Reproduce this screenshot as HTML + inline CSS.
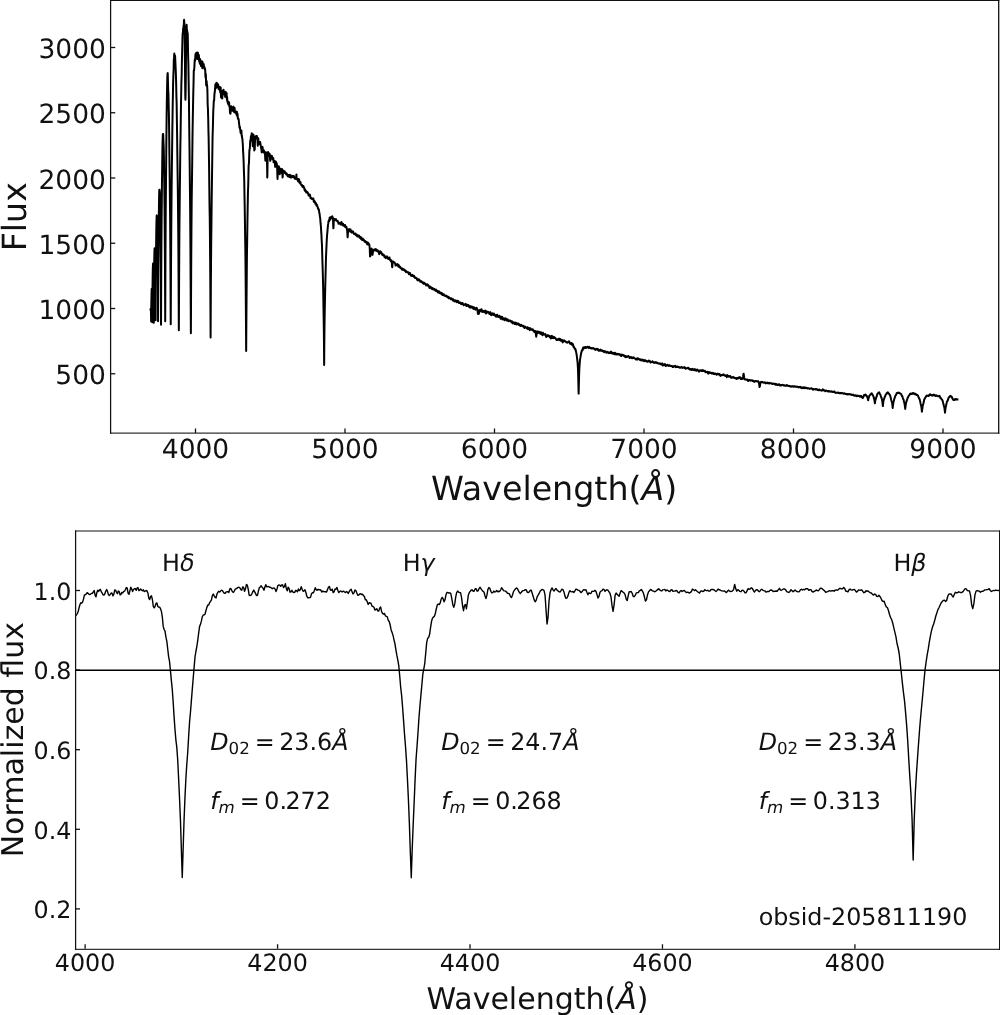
<!DOCTYPE html>
<html><head><meta charset="utf-8"><title>Spectrum</title>
<style>
html,body{margin:0;padding:0;background:#fff;}
svg{display:block;font-family:'DejaVu Sans','Liberation Sans',sans-serif;fill:#111;text-rendering:geometricPrecision;}
</style></head><body>
<svg width="1000" height="1015" viewBox="0 0 1000 1015">
<rect x="0" y="0" width="1000" height="1015" fill="#fff"/>
<polyline points="150.5,310.5 150.63,308.7 150.76,309.51 150.88,309.75 151.01,312.87 151.14,321.46 151.27,306.71 151.39,300.8 151.52,294.3 151.65,289.33 151.78,288.72 151.9,292.1 152.03,297.58 152.16,305.7 152.29,322.28 152.41,299.5 152.54,286.81 152.67,276.63 152.8,269.5 152.93,265.49 153.05,263.5 153.18,264.38 153.31,269.61 153.44,274.9 153.56,284.23 153.69,297.66 153.82,322.85 153.95,294.47 154.08,278.63 154.21,264.52 154.33,256.05 154.46,250.5 154.59,248.34 154.72,249.2 154.85,248.85 154.98,251.89 155.1,258.92 155.23,267.27 155.36,276.92 155.49,291.49 155.62,320.2 155.75,287.41 155.87,269.94 156,258.11 156.13,244.14 156.26,233.78 156.39,225.74 156.52,220.49 156.65,216.58 156.78,215.37 156.9,216.97 157.03,218.46 157.16,222.31 157.29,226.59 157.42,235.19 157.55,246.17 157.68,255.85 157.81,270.19 157.94,291.16 158.06,321.2 158.19,286.43 158.32,265.24 158.45,250.86 158.58,238.12 158.71,224.65 158.84,214.12 158.97,206.45 159.1,197.25 159.23,191.19 159.36,189.87 159.49,189.68 159.62,190.45 159.74,191.44 159.87,193.5 160,200.64 160.13,210.09 160.26,217.95 160.39,228.99 160.52,242.33 160.65,256.02 160.78,270.79 160.91,293.22 161.04,324.81 161.17,290.4 161.3,263.55 161.43,243.39 161.56,226.52 161.69,212.84 161.82,199.1 161.95,184.01 162.08,174.41 162.21,164.45 162.34,155.18 162.47,146.17 162.6,141.18 162.73,136.98 162.86,134.55 162.99,134.01 163.12,133.88 163.25,135.32 163.38,139.48 163.51,143.15 163.64,145.13 163.77,148.71 163.9,155.51 164.03,165.98 164.16,175.65 164.29,185.61 164.42,198.06 164.56,209.84 164.69,224.38 164.82,242.26 164.95,261.53 165.08,288.98 165.21,321.22 165.34,290.46 165.47,256.21 165.6,230.78 165.73,211.78 165.86,196.98 165.99,182.57 166.12,168.66 166.26,152.71 166.39,137.82 166.52,126.16 166.65,114.54 166.78,104.16 166.91,96.94 167.04,91.2 167.17,83.33 167.3,78.17 167.44,75.03 167.57,73.22 167.7,73.03 167.83,75.71 167.96,81.84 168.09,86.79 168.22,90.56 168.35,92.07 168.49,96.02 168.62,102.74 168.75,109.07 168.88,113.36 169.01,120.34 169.14,130.74 169.28,143.37 169.41,154.91 169.54,165.8 169.67,177.52 169.8,190.1 169.93,201.4 170.07,213.5 170.2,230 170.33,249.49 170.46,271.81 170.59,297.44 170.73,324.14 170.86,298.12 170.99,271.96 171.12,250.19 171.25,230.69 171.39,214.16 171.52,198.76 171.65,186.1 171.78,175.81 171.91,163.79 172.05,153.63 172.18,143.66 172.31,133.62 172.44,123 172.58,113.08 172.71,105.08 172.84,98.3 172.97,90.95 173.11,83.27 173.24,79.61 173.37,75.14 173.5,72.49 173.64,69.37 173.77,60.4 173.9,58.74 174.03,58.14 174.17,54.56 174.3,53.55 174.43,56.01 174.57,57.37 174.7,57.01 174.83,55.66 174.96,55.48 175.1,56.08 175.23,58.76 175.36,61.85 175.5,64.59 175.63,68.07 175.76,70.72 175.9,74.45 176.03,78.68 176.16,83.88 176.3,90.94 176.43,97.25 176.56,100.15 176.7,106.96 176.83,116.88 176.96,124.96 177.1,134.74 177.23,145.24 177.36,155.67 177.5,166.22 177.63,175.38 177.76,184.88 177.9,196 178.03,208.79 178.16,221.93 178.3,238.05 178.43,255.93 178.57,278.36 178.7,304.97 178.83,330.25 178.97,305.4 179.1,278.84 179.24,254.19 179.37,234.97 179.5,219.9 179.64,207.76 179.77,195.26 179.91,183.93 180.04,174.28 180.17,161.34 180.31,149.57 180.44,141.29 180.58,134.13 180.71,123.36 180.85,113.96 180.98,103.97 181.11,98.49 181.25,91.05 181.38,82.73 181.52,79.12 181.65,75.5 181.79,67.5 181.92,59.66 182.06,55.65 182.19,50.67 182.32,44.28 182.46,39.19 182.59,34.74 182.73,33 182.86,33.15 183,31.6 183.13,28.58 183.27,28.92 183.4,28.31 183.54,25.65 183.67,25.68 183.81,25.24 183.94,21.24 184.08,19.83 184.21,21.94 184.35,22.79 184.48,25.2 184.62,30.83 184.75,41.36 184.89,55.78 185.02,70.35 185.16,85.54 185.29,96.53 185.43,99.74 185.57,95.12 185.7,85.81 185.84,74.27 185.97,57.32 186.11,41.43 186.24,32.03 186.38,29.46 186.51,26.65 186.65,24.75 186.79,29.23 186.92,29.59 187.06,30.04 187.19,31.37 187.33,32.47 187.46,32.8 187.6,32.91 187.74,33.78 187.87,40.71 188.01,50.25 188.14,56.77 188.28,60.81 188.42,65.97 188.55,76.2 188.69,84.93 188.82,93.04 188.96,102.12 189.1,115.25 189.23,126.96 189.37,139.62 189.51,149.96 189.64,161.23 189.78,174.92 189.91,187.07 190.05,198.99 190.19,214.86 190.32,232.11 190.46,253.24 190.6,279.11 190.73,307.31 190.87,333.21 191.01,306.74 191.14,277.33 191.28,251.98 191.42,233.64 191.55,216.69 191.69,200.51 191.83,190.44 191.96,182.03 192.1,170.63 192.24,160.51 192.37,148.81 192.51,136.11 192.65,126.99 192.79,119.32 192.92,111.76 193.06,104.16 193.2,97.49 193.33,90.63 193.47,85.96 193.61,79.61 193.75,71.21 193.88,70.09 194.02,70.51 194.16,69.69 194.3,68.27 194.43,66.25 194.57,62.89 194.71,60.51 194.85,59.63 194.98,60.95 195.12,60.49 195.26,58.23 195.4,54.8 195.53,55 195.67,54.44 195.81,53.23 195.95,54.06 196.08,55.07 196.22,55.59 196.36,55.31 196.5,54.92 196.64,55.01 196.77,53.81 196.91,52.51 197.05,57.1 197.19,58.89 197.33,54.85 197.46,52.72 197.6,54.13 197.74,53.13 197.88,52.67 198.02,55.37 198.16,56.97 198.29,58.74 198.43,59.27 198.57,58.32 198.71,56.09 198.85,55 198.99,57.23 199.12,60.69 199.26,61.72 199.4,61.11 199.54,60.24 199.68,60.76 199.82,63.76 199.96,62.86 200.1,59.12 200.23,59.78 200.37,62.07 200.51,63.83 200.65,61.68 200.79,62.5 200.93,66.03 201.07,66.04 201.21,64.27 201.35,65.14 201.48,64.07 201.62,64.06 201.76,62.67 201.9,61.15 202.04,61.95 202.18,67.19 202.32,68.24 202.46,64.88 202.6,61.98 202.74,63.96 202.88,66.44 203.02,64.77 203.16,64.31 203.29,64.37 203.43,66.3 203.57,64.44 203.71,64.16 203.85,67.13 203.99,66.89 204.13,66.2 204.27,67.24 204.41,68.27 204.55,67.55 204.69,69.29 204.83,69.13 204.97,68.57 205.11,69.08 205.25,71.15 205.39,75.93 205.53,77.41 205.67,74.61 205.81,74.05 205.95,77.53 206.09,84.02 206.23,85.4 206.37,84.14 206.51,81.45 206.65,81.09 206.79,84.24 206.93,85.14 207.07,85.21 207.21,86.77 207.35,89.43 207.49,94.76 207.63,103.59 207.77,106.55 207.92,108.28 208.06,114 208.2,118.04 208.34,125.46 208.48,132.63 208.62,137.19 208.76,145.82 208.9,154.97 209.04,163.21 209.18,175.19 209.32,188.6 209.46,200.64 209.6,210.47 209.75,217.32 209.89,229.24 210.03,246.26 210.17,264.35 210.31,284.12 210.45,311.33 210.59,337.43 210.73,310.43 210.87,284.26 211.02,264.13 211.16,246.88 211.3,234.05 211.44,223.31 211.58,209.21 211.72,196.16 211.86,187.14 212.01,176.87 212.15,166.6 212.29,156.57 212.43,147.05 212.57,137.23 212.71,132.43 212.85,128.26 213,122.59 213.14,116.36 213.28,110.53 213.42,108.63 213.56,105.95 213.71,102.1 213.85,100.74 213.99,100.83 214.13,100.42 214.27,97.28 214.42,94.83 214.56,92.67 214.7,92.91 214.84,91.05 214.98,90.1 215.13,89.01 215.27,85.38 215.41,84.18 215.55,86.09 215.7,87.66 215.84,88.34 215.98,85.1 216.12,83.83 216.26,83.05 216.41,83.91 216.55,83.26 216.69,82.8 216.83,83.38 216.98,85.08 217.12,86.37 217.26,86.62 217.41,85.66 217.55,85.89 217.69,86.02 217.83,87.16 217.98,84.43 218.12,84.36 218.26,86.29 218.41,88.27 218.55,88.95 218.69,88.15 218.83,86.86 218.98,87.04 219.12,87.03 219.26,86.67 219.41,87.03 219.55,87.81 219.69,89.86 219.84,90.68 219.98,88.11 220.12,88.85 220.27,92.57 220.41,90.91 220.55,87.25 220.7,87.99 220.84,91.73 220.98,96.98 221.13,97.56 221.27,97.34 221.42,96.27 221.56,94.54 221.7,93.29 221.85,95 221.99,96.66 222.13,98.46 222.28,98.4 222.42,94.69 222.57,91.95 222.71,91.37 222.85,90.43 223,91.65 223.14,92.72 223.29,94.53 223.43,91.76 223.57,89.81 223.72,91.84 223.86,91.63 224.01,91.6 224.15,92.41 224.3,92.38 224.44,93.08 224.58,93.78 224.73,93.37 224.87,93.42 225.02,94.55 225.16,96.86 225.31,94.93 225.45,92.23 225.6,91.9 225.74,92.37 225.88,93.62 226.03,92.84 226.17,92.98 226.32,95.71 226.46,95.08 226.61,92.93 226.75,97.2 226.9,99.57 227.04,96.79 227.19,98.22 227.33,101.57 227.48,101.84 227.62,100.9 227.77,102.66 227.91,103.61 228.06,103.87 228.2,102.66 228.35,103.39 228.49,104.59 228.64,102.81 228.79,104.6 228.93,104.22 229.08,102.19 229.22,104.62 229.37,106.73 229.51,106.7 229.66,106.04 229.8,108.66 229.95,112.16 230.09,113.43 230.24,113.59 230.39,113.67 230.53,113.35 230.68,110.62 230.82,109.93 230.97,110.21 231.12,108.31 231.26,106.21 231.41,108.08 231.55,108.6 231.7,107.85 231.85,108.48 231.99,108.31 232.14,109.05 232.28,110.56 232.43,109.74 232.58,110.35 232.72,110.54 232.87,110.63 233.01,110.98 233.16,108.89 233.31,107.08 233.45,106.62 233.6,109.59 233.75,109.92 233.89,109.04 234.04,112.03 234.19,111.34 234.33,109.19 234.48,109.54 234.63,108.05 234.77,110.7 234.92,112.53 235.07,111.57 235.21,111.4 235.36,112.18 235.51,112.23 235.65,111.88 235.8,112.75 235.95,113.39 236.1,112.64 236.24,113.23 236.39,114.46 236.54,113.06 236.68,112.1 236.83,111.6 236.98,114.03 237.13,116.04 237.27,115.44 237.42,113.45 237.57,114.19 237.71,116.53 237.86,118.66 238.01,118.84 238.16,118.22 238.3,118.38 238.45,119.29 238.6,119.06 238.75,120.31 238.89,121.28 239.04,123.8 239.19,123.82 239.34,125.73 239.49,127.79 239.63,126.46 239.78,126.68 239.93,127.02 240.08,129.35 240.23,129.64 240.37,130.31 240.52,132.61 240.67,132.1 240.82,131.58 240.97,133.38 241.11,133.65 241.26,131.32 241.41,130.45 241.56,134.17 241.71,135.82 241.86,136.5 242,136.06 242.15,138.1 242.3,138.59 242.45,139.2 242.6,142.13 242.75,143.22 242.89,146.14 243.04,150.29 243.19,152.43 243.34,154.98 243.49,158.66 243.64,162.01 243.79,167.06 243.94,171.66 244.08,175.68 244.23,180.27 244.38,188.87 244.53,197.98 244.68,204.89 244.83,214.5 244.98,225.16 245.13,236.21 245.28,245.73 245.43,256.91 245.58,271.9 245.72,288.12 245.87,307.14 246.02,330.08 246.17,350.95 246.32,327.97 246.47,308.88 246.62,291.37 246.77,272.96 246.92,257.16 247.07,247.36 247.22,236.7 247.37,225.24 247.52,216.14 247.67,207.92 247.82,199.87 247.97,191.64 248.12,187.87 248.27,183.65 248.42,175.83 248.57,167.67 248.72,164.57 248.87,164.07 249.02,162.03 249.17,156.84 249.32,152.33 249.47,149.9 249.62,149.32 249.77,148.92 249.92,146.8 250.07,143.54 250.22,140.8 250.37,140.3 250.52,141 250.67,139.88 250.82,137.19 250.97,136.07 251.12,137.37 251.27,139.88 251.42,138.51 251.57,134.9 251.72,133.3 251.87,133.72 252.02,134.26 252.17,134.32 252.33,135.26 252.48,139.35 252.63,143.98 252.78,146.18 252.93,143.77 253.08,138.56 253.23,135.26 253.38,134.48 253.53,135.5 253.68,136.06 253.83,136.33 253.99,140.26 254.14,146.44 254.29,150.57 254.44,146.69 254.59,146.13 254.74,149.59 254.89,144.69 255.05,139.44 255.2,137.69 255.35,137.01 255.5,136.2 255.65,136.33 255.8,137.62 255.95,137.55 256.11,136.04 256.26,136.24 256.41,138.27 256.56,138.16 256.71,136.55 256.86,135.95 257.02,137.36 257.17,138.52 257.32,139.6 257.47,140.31 257.62,143.32 257.78,145.64 257.93,143.37 258.08,139.27 258.23,138.13 258.38,139.12 258.54,141.49 258.69,142.92 258.84,142.94 258.99,142.14 259.15,143.08 259.3,143.15 259.45,142.59 259.6,143.85 259.76,143.74 259.91,144.24 260.06,143.29 260.21,142.06 260.37,143.43 260.52,144.85 260.67,145.39 260.82,145.85 260.98,146.82 261.13,148.14 261.28,148.55 261.43,149.16 261.59,151.32 261.74,152.38 261.89,150.99 262.05,148.78 262.2,147.87 262.35,147.37 262.51,146.88 262.66,147.61 262.81,149.4 262.97,150.96 263.12,151.92 263.27,151.31 263.43,150.66 263.58,150.65 263.73,150.64 263.89,150.33 264.04,150.73 264.19,152.53 264.35,153.11 264.5,152.78 264.65,151.73 264.81,151.81 264.96,154.09 265.11,156.56 265.27,159.13 265.42,160.64 265.58,159.75 265.73,157.29 265.88,156.21 266.04,155.03 266.19,153.58 266.35,152.89 266.5,152.42 266.65,152.85 266.81,153.44 266.96,156.97 267.12,167.75 267.27,177.6 267.42,172.68 267.58,161.15 267.73,155.48 267.89,153.34 268.04,152.08 268.2,153.55 268.35,154.46 268.5,153.54 268.66,152.9 268.81,153.97 268.97,154.71 269.12,155.23 269.28,155.64 269.43,154.76 269.59,153.84 269.74,154.27 269.9,155.97 270.05,159.06 270.21,160.79 270.36,160.59 270.52,159.2 270.67,156.85 270.83,155.76 270.98,156.64 271.14,156.94 271.29,156.81 271.45,157.69 271.6,156.82 271.76,155.72 271.91,156.06 272.07,156.85 272.22,157.22 272.38,158.05 272.53,159.22 272.69,158.87 272.84,158.03 273,157.84 273.16,158.34 273.31,158.34 273.47,160.5 273.62,162.37 273.78,161.24 273.93,161.9 274.09,162.14 274.25,160.85 274.4,161.15 274.56,161.32 274.71,160.94 274.87,161.75 275.03,164.32 275.18,166.89 275.34,165.94 275.49,163.29 275.65,162.73 275.81,162.64 275.96,161.76 276.12,162.2 276.27,163.71 276.43,163.03 276.59,163 276.74,163.58 276.9,164.85 277.06,166.13 277.21,169.07 277.37,175.11 277.53,179.02 277.68,174.82 277.84,168.43 278,167 278.15,168.01 278.31,168.92 278.47,169.75 278.62,167.82 278.78,166.24 278.94,167.01 279.09,167.74 279.25,168.55 279.41,169.96 279.56,173.04 279.72,174.18 279.88,171.09 280.04,168.5 280.19,168.68 280.35,168.74 280.51,170.22 280.66,172.47 280.82,172.69 280.98,171.84 281.14,170.55 281.29,170.46 281.45,170.58 281.61,169.58 281.77,169.43 281.92,169 282.08,170.25 282.24,171.73 282.4,174.48 282.56,177.5 282.71,176.79 282.87,173.71 283.03,171.73 283.19,171.12 283.34,170.4 283.5,171.03 283.66,171.7 283.82,171.99 283.98,172.56 284.13,172.46 284.29,172.01 284.45,171.59 284.61,171.22 284.77,172.05 284.93,172.69 285.08,173.05 285.24,172.46 285.4,172.47 285.56,172.45 285.72,173.61 285.88,173.07 286.03,173.49 286.19,174.2 286.35,174.46 286.51,173.58 286.67,173.51 286.83,174.65 286.99,174.65 287.14,174.73 287.3,174.44 287.46,174.7 287.62,175.88 287.78,176.31 287.94,175.3 288.1,174.84 288.26,175.59 288.42,175.28 288.58,175 288.73,175.85 288.89,176.53 289.05,176.46 289.21,176.63 289.37,177.13 289.53,176.75 289.69,176.32 289.85,174.67 290.01,175.17 290.17,175.8 290.33,175.31 290.49,176.07 290.65,176.72 290.81,177.22 290.97,177.71 291.13,176.45 291.29,176.34 291.45,176.86 291.61,176.76 291.77,175.75 291.93,176.21 292.09,176.55 292.25,176.31 292.41,176.89 292.57,176.9 292.73,176.11 292.89,175.92 293.05,176.08 293.21,176.34 293.37,177.02 293.53,177.57 293.69,176.89 293.85,176.08 294.01,176.64 294.17,176.8 294.33,177.41 294.49,177.52 294.65,177.77 294.81,177.71 294.97,178.33 295.13,178.97 295.29,178.18 295.45,177.52 295.61,178.23 295.77,178.62 295.93,178.63 296.1,178.39 296.26,177.52 296.42,174.4 296.58,177.18 296.74,178.99 296.9,178.15 297.06,178.69 297.22,179.52 297.38,179.85 297.54,179.18 297.71,179.2 297.87,179.99 298.03,181.22 298.19,181.44 298.35,180.23 298.51,179.07 298.67,179.83 298.84,179.75 299,179.2 299.16,179.78 299.32,181.37 299.48,182.64 299.64,181.99 299.8,181.53 299.97,182.03 300.13,183.08 300.29,183.58 300.45,182.72 300.61,182.43 300.78,183.25 300.94,183.78 301.1,184.18 301.26,185.16 301.42,185.24 301.59,185.25 301.75,185.61 301.91,185.01 302.07,185.02 302.23,185.52 302.4,186.52 302.56,186.49 302.72,186.78 302.88,186.85 303.05,187.25 303.21,186.53 303.37,185.94 303.53,187.33 303.7,187.63 303.86,187.43 304.02,187.31 304.18,187.63 304.35,188.45 304.51,189.81 304.67,190.29 304.84,190.8 305,190.48 305.16,189.59 305.32,190.41 305.49,191.35 305.65,191.02 305.81,190.71 305.98,191.62 306.14,192.12 306.3,192.59 306.47,192.6 306.63,191.78 306.79,191.57 306.96,192.23 307.12,192.09 307.28,192.61 307.45,192.1 307.61,192.3 307.77,192.55 307.94,193.71 308.1,193.48 308.26,193.68 308.43,195.02 308.59,195.56 308.76,195.38 308.92,195.27 309.08,194.89 309.25,195.52 309.41,195.78 309.57,195.34 309.74,194.59 309.9,194.87 310.07,195.57 310.23,196.27 310.39,197.03 310.56,198.15 310.72,198.05 310.89,198.1 311.05,197.86 311.22,198.01 311.38,198.37 311.54,198.28 311.71,198.56 311.87,199.06 312.04,198.57 312.2,198.66 312.37,199.09 312.53,198.88 312.7,198.46 312.86,198.57 313.03,199.04 313.19,199.22 313.36,198.58 313.52,199.48 313.69,201.36 313.85,201.49 314.02,202.09 314.18,201.08 314.35,200.76 314.51,201.48 314.68,201.83 314.84,201.72 315.01,201.8 315.17,202.65 315.34,203.76 315.5,203.51 315.67,202.82 315.83,203.21 316,203.45 316.16,203.41 316.33,204.49 316.49,205.52 316.66,205.43 316.83,204.71 316.99,205.25 317.16,205.23 317.32,206 317.49,206.72 317.65,207.02 317.82,207.92 317.99,208.55 318.15,208.12 318.32,208.51 318.48,209.81 318.65,210.09 318.82,209.41 318.98,210.32 319.15,211.46 319.31,213.05 319.48,213.68 319.65,213.72 319.81,215.81 319.98,217.27 320.15,217.77 320.31,219.61 320.48,222.09 320.65,223.98 320.81,225.36 320.98,227.52 321.14,230.37 321.31,233.12 321.48,235.79 321.64,239.75 321.81,242.31 321.98,245.73 322.15,251.56 322.31,257.15 322.48,263.25 322.65,268.61 322.81,273.59 322.98,280.61 323.15,288.14 323.31,297.24 323.48,308.21 323.65,318.35 323.82,327.83 323.98,341.93 324.15,365.03 324.32,341.87 324.49,326.93 324.65,316.4 324.82,307.56 324.99,298.99 325.16,290.8 325.32,283.62 325.49,277.18 325.66,270.92 325.83,264.01 325.99,257.69 326.16,253.34 326.33,249.34 326.5,246.16 326.66,242.19 326.83,238.95 327,236.1 327.17,234.04 327.34,232.57 327.5,230.61 327.67,228.31 327.84,226.59 328.01,224.83 328.18,223.88 328.35,222.59 328.51,221.42 328.68,220.8 328.85,220.32 329.02,220.35 329.19,221.19 329.36,220.78 329.52,218.53 329.69,217.44 329.86,217.43 330.03,217.62 330.2,218.66 330.37,219.56 330.54,218.33 330.71,217.17 330.87,217.6 331.04,217.68 331.21,217.31 331.38,217.67 331.55,217.94 331.72,218.06 331.89,217.73 332.06,217.02 332.23,216.32 332.4,216.59 332.56,217.68 332.73,217.9 332.9,218.06 333.07,220.81 333.24,226.07 333.41,228.31 333.58,225.65 333.75,220.92 333.92,218.96 334.09,218.78 334.26,219.04 334.43,219.38 334.6,220.03 334.77,219.69 334.94,219.77 335.11,219.6 335.28,219.23 335.45,219.34 335.62,219.35 335.79,219.43 335.96,219.05 336.13,220.15 336.3,220.82 336.47,220.7 336.64,220.53 336.81,220.76 336.98,220.56 337.15,220.87 337.32,221.08 337.49,221.11 337.66,220.85 337.83,221.96 338,222.23 338.17,221.85 338.34,222.92 338.51,223.67 338.68,223.18 338.85,222.69 339.02,222.81 339.2,222.96 339.37,223.59 339.54,223.44 339.71,223.42 339.88,223.65 340.05,223.63 340.22,223.32 340.39,223.71 340.56,224.57 340.73,223.49 340.91,223.55 341.08,223.7 341.25,223.01 341.42,221.97 341.59,222.32 341.76,223.69 341.93,223.73 342.1,224 342.28,224.63 342.45,225.19 342.62,225.03 342.79,224.59 342.96,224.2 343.13,223.87 343.31,225.11 343.48,225.43 343.65,225.15 343.82,224.85 343.99,225.18 344.16,225.6 344.34,226.14 344.51,226.04 344.68,226.11 344.85,225.6 345.02,225 345.2,225.76 345.37,226.92 345.54,227.22 345.71,226.95 345.89,226.64 346.06,226.86 346.23,227.34 346.4,226.88 346.58,227.4 346.75,228.48 346.92,229.26 347.09,229.9 347.27,231.86 347.44,234.85 347.61,237.37 347.78,235.6 347.96,232.69 348.13,231.14 348.3,229.67 348.48,229.25 348.65,229.33 348.82,229.35 348.99,229.91 349.17,230.67 349.34,229.8 349.51,229.3 349.69,230.24 349.86,231.25 350.03,230.82 350.21,230.6 350.38,229.8 350.55,229.49 350.73,231.33 350.9,231.93 351.07,231.27 351.25,231.65 351.42,231 351.59,231.19 351.77,232.05 351.94,232.63 352.12,232.27 352.29,231.92 352.46,231.39 352.64,231.23 352.81,232 352.98,231.72 353.16,231.79 353.33,232.69 353.51,232.94 353.68,233 353.85,233.88 354.03,233.64 354.2,233.98 354.38,233.85 354.55,233.65 354.73,233.98 354.9,234.1 355.07,233.79 355.25,233.74 355.42,234.58 355.6,233.56 355.77,233.88 355.95,235.1 356.12,234.78 356.3,235.06 356.47,235.42 356.65,235 356.82,234.71 357,235.23 357.17,236.3 357.35,236.4 357.52,236.06 357.7,235.48 357.87,235.38 358.05,235.74 358.22,235.64 358.4,235.88 358.57,236.22 358.75,236.43 358.92,235.66 359.1,235.75 359.27,236.7 359.45,237.62 359.62,237.03 359.8,236.65 359.97,237.15 360.15,238.07 360.33,237.79 360.5,237.09 360.68,238.33 360.85,238.77 361.03,237.95 361.2,237.51 361.38,238.1 361.56,238.3 361.73,238.75 361.91,239.95 362.08,239.97 362.26,239.73 362.44,239.79 362.61,239.97 362.79,239.42 362.97,238.62 363.14,238.97 363.32,239.14 363.49,239.7 363.67,240.06 363.85,240.07 364.02,239.99 364.2,240.67 364.38,241.26 364.55,241.67 364.73,241.21 364.91,241.37 365.08,241.01 365.26,240.96 365.44,241.37 365.61,241.85 365.79,242.35 365.97,242.51 366.14,242.35 366.32,241.92 366.5,242.07 366.68,242.34 366.85,242.04 367.03,242.71 367.21,244.45 367.38,243.86 367.56,242.59 367.74,242.79 367.92,243.35 368.09,243.1 368.27,242.93 368.45,243.43 368.63,244.44 368.8,244.55 368.98,244.14 369.16,244.27 369.34,244.98 369.51,246.2 369.69,247.31 369.87,251.63 370.05,256.38 370.23,256.51 370.4,253.4 370.58,251.8 370.76,253.22 370.94,253.47 371.12,252.31 371.29,250.49 371.47,248.88 371.65,248.52 371.83,250.2 372.01,252.09 372.19,253.28 372.36,254.89 372.54,254.84 372.72,253.44 372.9,252.19 373.08,251.56 373.26,251.71 373.44,250.59 373.61,249.69 373.79,249.7 373.97,249.88 374.15,249.92 374.33,249.47 374.51,250.04 374.69,250.3 374.87,250.26 375.04,249.59 375.22,249.4 375.4,249.84 375.58,250.06 375.76,249.47 375.94,249.06 376.12,250.64 376.3,250.47 376.48,249.79 376.66,250.03 376.84,250.43 377.02,250.56 377.2,251.01 377.38,251.38 377.56,251 377.74,250.21 377.91,250.46 378.09,251.23 378.27,251.36 378.45,251.25 378.63,251.45 378.81,252.3 378.99,252.92 379.17,254.12 379.35,253.84 379.53,253.19 379.71,253.04 379.89,252.22 380.07,251.46 380.25,251.26 380.43,252.17 380.61,253.04 380.8,252.99 380.98,252.25 381.16,252.06 381.34,252.83 381.52,253.31 381.7,253.27 381.88,253.48 382.06,254.08 382.24,254.66 382.42,254.97 382.6,254.92 382.78,254.29 382.96,254.26 383.14,254.68 383.32,255.61 383.51,255.46 383.69,255.18 383.87,255.28 384.05,255.5 384.23,255.29 384.41,256.26 384.59,257.19 384.77,257.01 384.95,256.44 385.14,256.5 385.32,257.59 385.5,257.64 385.68,257.78 385.86,258.14 386.04,257.81 386.22,256.87 386.41,256.89 386.59,257.06 386.77,257.32 386.95,257.04 387.13,256.37 387.32,256.74 387.5,257.26 387.68,258.06 387.86,258.66 388.04,258.52 388.23,258.38 388.41,258.58 388.59,258.62 388.77,259.09 388.95,258.24 389.14,258.2 389.32,257.63 389.5,257.44 389.68,258 389.87,258.97 390.05,259.5 390.23,260.11 390.41,260 390.6,260.38 390.78,261.24 390.96,260.82 391.14,260.16 391.33,260.67 391.51,260.46 391.69,261.1 391.87,263.2 392.06,266.35 392.24,267.32 392.42,265.06 392.61,262.04 392.79,261.72 392.97,261.94 393.16,261.65 393.34,261.9 393.52,262.17 393.71,261.88 393.89,262.03 394.07,262.08 394.26,262.12 394.44,262.73 394.62,262.71 394.81,263.11 394.99,263.11 395.17,263.35 395.36,264.29 395.54,265.52 395.73,264.81 395.91,264.52 396.09,264.33 396.28,264.22 396.46,264.44 396.64,265.23 396.83,264.86 397.01,264.54 397.2,265.06 397.38,264.68 397.57,264.15 397.75,264.67 397.93,265.12 398.12,265.87 398.3,266.55 398.49,266.29 398.67,265.39 398.86,265.17 399.04,266.55 399.23,267.06 399.41,267.04 399.59,267.31 399.78,266.95 399.96,266.67 400.15,266.95 400.33,267.67 400.52,268.11 400.7,267.55 400.89,267.77 401.07,267.92 401.26,268.28 401.44,268.66 401.63,268.74 401.81,269.03 402,269.63 402.18,269.49 402.37,268.69 402.55,268.44 402.74,269.07 402.93,269.66 403.11,269.36 403.3,269.06 403.48,269.38 403.67,269.27 403.85,269.73 404.04,270.12 404.23,270.36 404.41,269.88 404.6,269.67 404.78,270.33 404.97,270.63 405.15,270.94 405.34,270.71 405.53,270.51 405.71,270.65 405.9,271.54 406.08,272.22 406.27,271.78 406.46,271.8 406.64,271.98 406.83,271.68 407.02,271.94 407.2,272.05 407.39,272.08 407.58,272 407.76,272.2 407.95,272.7 408.14,272.51 408.32,272.22 408.51,272.32 408.7,273 408.88,274.17 409.07,274.1 409.26,273.79 409.44,273.94 409.63,274.11 409.82,273.55 410,272.96 410.19,273.95 410.38,274.35 410.57,274.4 410.75,275.32 410.94,275.62 411.13,275.55 411.31,275.34 411.5,275.6 411.69,275.79 411.88,275.96 412.06,275.34 412.25,274.91 412.44,275.59 412.63,276.09 412.82,276.11 413,276.01 413.19,275.55 413.38,275.64 413.57,276.56 413.75,276.23 413.94,275.59 414.13,276.35 414.32,277.15 414.51,276.86 414.69,277.45 414.88,277.86 415.07,277.94 415.26,278.06 415.45,277.79 415.64,277.6 415.82,277.58 416.01,277.78 416.2,277.97 416.39,278 416.58,277.98 416.77,278.54 416.96,279.48 417.14,279.81 417.33,279.6 417.52,279.34 417.71,279.64 417.9,280.42 418.09,279.87 418.28,279.29 418.47,279.33 418.66,279.9 418.84,280.1 419.03,279.76 419.22,279.5 419.41,279.76 419.6,280.23 419.79,280.35 419.98,280.57 420.17,281.27 420.36,281.84 420.55,281.73 420.74,281.13 420.93,281.18 421.12,281.72 421.31,281.27 421.5,281.39 421.69,281.89 421.88,282.2 422.07,282.32 422.26,282.35 422.45,282.09 422.64,282.86 422.83,282.96 423.02,282.97 423.21,282.99 423.4,283.81 423.59,283.84 423.78,283.34 423.97,282.64 424.16,282.7 424.35,283.21 424.54,283.64 424.73,283.37 424.92,283.84 425.11,283.86 425.3,283.85 425.49,284.27 425.68,284.55 425.87,284.92 426.06,285.44 426.25,284.72 426.44,284.9 426.64,284.89 426.83,284.22 427.02,284.48 427.21,284.68 427.4,284.61 427.59,284.88 427.78,285.42 427.97,284.77 428.16,285.42 428.36,286.33 428.55,285.94 428.74,285.63 428.93,286.34 429.12,286.64 429.31,287.27 429.5,288 429.7,287.71 429.89,287.58 430.08,287.32 430.27,286.78 430.46,286.93 430.65,286.83 430.85,287.1 431.04,287.83 431.23,288.19 431.42,288.1 431.61,287.87 431.81,288.76 432,288.95 432.19,288.43 432.38,288.24 432.58,288.03 432.77,288.75 432.96,288.91 433.15,289.05 433.34,289.48 433.54,289.3 433.73,289.18 433.92,289.41 434.11,289.33 434.31,288.84 434.5,289.51 434.69,290.02 434.89,289.76 435.08,289.77 435.27,290.55 435.46,290.72 435.66,290.2 435.85,290.06 436.04,289.59 436.24,289.73 436.43,290.7 436.62,291.13 436.82,291.06 437.01,290.92 437.2,290.85 437.4,291.06 437.59,291.09 437.78,291.62 437.98,292.58 438.17,292.32 438.36,291.38 438.56,291.7 438.75,292.01 438.94,291.2 439.14,291.6 439.33,292.78 439.53,292.76 439.72,292.61 439.91,292.98 440.11,293.18 440.3,292.86 440.5,293.07 440.69,293 440.88,292.61 441.08,293.3 441.27,293.95 441.47,293.71 441.66,293.24 441.86,293.1 442.05,293.81 442.24,294.82 442.44,294.98 442.63,294.83 442.83,294.71 443.02,294.51 443.22,294.67 443.41,294.18 443.61,294.12 443.8,294.93 444,295.49 444.19,294.98 444.39,294.98 444.58,295.44 444.78,295.71 444.97,295.86 445.17,296.05 445.36,295.92 445.56,295.68 445.75,295.83 445.95,295.77 446.14,296.19 446.34,295.73 446.53,295.79 446.73,296.32 446.93,296.91 447.12,297.03 447.32,296.53 447.51,296.95 447.71,297.39 447.9,297.29 448.1,297.54 448.3,297.25 448.49,296.91 448.69,297.05 448.88,298.23 449.08,297.89 449.28,297.79 449.47,297.81 449.67,297.82 449.86,297.96 450.06,298.11 450.26,298.26 450.45,298.76 450.65,299.21 450.85,299.15 451.04,298.52 451.24,298.28 451.44,298.67 451.63,299 451.83,298.7 452.03,299.29 452.22,299.71 452.42,299.59 452.62,299.65 452.81,300.42 453.01,300.1 453.21,299.3 453.4,300 453.6,300.63 453.8,300.86 454,300.9 454.19,300.42 454.39,300.29 454.59,300.64 454.79,301.43 454.98,300.76 455.18,300.47 455.38,300.37 455.58,301.2 455.77,301.18 455.97,301.44 456.17,301.62 456.37,301.4 456.56,301.59 456.76,302.16 456.96,301.52 457.16,300.61 457.36,301.12 457.55,301.38 457.75,302.07 457.95,301.68 458.15,300.96 458.35,301.58 458.54,302.58 458.74,302.85 458.94,302.41 459.14,302.5 459.34,302.85 459.54,303.03 459.73,302.61 459.93,303.09 460.13,303.03 460.33,302.72 460.53,302.64 460.73,303.44 460.93,303.91 461.13,303.51 461.32,303.66 461.52,304.1 461.72,303.92 461.92,303.47 462.12,303.15 462.32,302.99 462.52,303.01 462.72,303.46 462.92,304.1 463.12,304.18 463.32,304.39 463.52,304.91 463.71,305.22 463.91,304.69 464.11,304.35 464.31,304.62 464.51,304.5 464.71,304.7 464.91,304.72 465.11,304.64 465.31,304.48 465.51,304.47 465.71,303.88 465.91,304.7 466.11,305.67 466.31,305.83 466.51,306.03 466.71,305.85 466.91,305.54 467.11,304.81 467.31,304.79 467.51,305.35 467.71,305.84 467.91,305.86 468.11,305.6 468.31,304.98 468.51,305.42 468.72,306.07 468.92,306.72 469.12,307.05 469.32,307.03 469.52,306.46 469.72,306.3 469.92,307.32 470.12,307.6 470.32,307.08 470.52,306.14 470.72,306.07 470.92,306.61 471.13,307.27 471.33,307.41 471.53,306.92 471.73,307.41 471.93,307.34 472.13,307.2 472.33,307.21 472.54,306.76 472.74,307.43 472.94,308.4 473.14,308.13 473.34,308.77 473.54,308.88 473.74,307.95 473.95,307.29 474.15,307.65 474.35,308.15 474.55,308.31 474.75,308.42 474.96,308.89 475.16,309.32 475.36,308.88 475.56,309.65 475.76,308.99 475.97,307.91 476.17,308.23 476.37,308.66 476.57,307.86 476.78,308.01 476.98,309.12 477.18,309.3 477.38,309.46 477.59,310.67 477.79,313.05 477.99,314.09 478.19,311.99 478.4,310.34 478.6,311.04 478.8,313.74 479.01,313.27 479.21,310.74 479.41,310.86 479.62,310.73 479.82,310.25 480.02,309.72 480.23,309.87 480.43,310.56 480.63,310.57 480.84,311.35 481.04,311.45 481.24,310.08 481.45,309.15 481.65,309.76 481.85,310.78 482.06,311.02 482.26,311.14 482.46,311.86 482.67,311.55 482.87,311.29 483.08,310.81 483.28,310.93 483.48,311.66 483.69,311.4 483.89,311.94 484.1,312.21 484.3,311.35 484.5,311.09 484.71,311.2 484.91,310.88 485.12,310.64 485.32,310.78 485.53,311.41 485.73,312.57 485.93,313.42 486.14,313.23 486.34,311.95 486.55,311.61 486.75,311.32 486.96,311.81 487.16,312.55 487.37,312.55 487.57,312.16 487.78,312.29 487.98,312.06 488.19,311.9 488.39,312.85 488.6,312.64 488.8,312.4 489.01,312.58 489.21,313.12 489.42,314.08 489.62,313.16 489.83,312.81 490.04,312.5 490.24,312.11 490.45,312.94 490.65,313.46 490.86,314.12 491.06,315.05 491.27,315.14 491.48,314.68 491.68,314.09 491.89,313.84 492.09,313.6 492.3,313.33 492.51,313.45 492.71,313.9 492.92,313.89 493.12,314.51 493.33,314.94 493.54,314.88 493.74,313.72 493.95,313.63 494.16,313.98 494.36,314.74 494.57,314.94 494.77,315.54 494.98,315.71 495.19,315.32 495.39,315.29 495.6,315.11 495.81,316.16 496.02,316.77 496.22,315.71 496.43,315.5 496.64,315.76 496.84,314.84 497.05,314.65 497.26,314.68 497.46,315.74 497.67,316.72 497.88,316.3 498.09,316.25 498.29,316.22 498.5,316.18 498.71,316.52 498.92,316.99 499.12,316.97 499.33,315.9 499.54,315.74 499.75,316.53 499.95,317 500.16,317.23 500.37,317.84 500.58,318.74 500.79,317.86 500.99,316.72 501.2,316.75 501.41,316.93 501.62,318.1 501.83,318.83 502.04,317.65 502.24,316.94 502.45,317.93 502.66,319.43 502.87,318.8 503.08,318.32 503.29,319.14 503.49,319.22 503.7,318.84 503.91,318.27 504.12,319.07 504.33,319.39 504.54,320.2 504.75,319.4 504.96,318.68 505.16,319.4 505.37,318.62 505.58,318.32 505.79,318.5 506,318.51 506.21,319.07 506.42,319.62 506.63,320.46 506.84,320.39 507.05,320.16 507.26,320.69 507.47,319.84 507.68,319.4 507.89,320.47 508.1,320.81 508.31,320.18 508.51,320.28 508.72,321.21 508.93,321.01 509.14,320.54 509.35,320.57 509.56,320.53 509.77,320.63 509.98,320.81 510.19,320.83 510.4,320.49 510.62,321.03 510.83,321.31 511.04,321.63 511.25,321.89 511.46,322.24 511.67,321.69 511.88,321.23 512.09,321.95 512.3,322.63 512.51,323.14 512.72,323.36 512.93,323.17 513.14,322.85 513.35,322.41 513.56,322.72 513.77,323.15 513.99,322.47 514.2,322.84 514.41,323.17 514.62,324.14 514.83,324.03 515.04,322.82 515.25,322.7 515.46,322.84 515.68,322.52 515.89,322.98 516.1,324.16 516.31,324.41 516.52,323.93 516.73,324.24 516.94,323.56 517.16,323.68 517.37,324.08 517.58,323.98 517.79,324.12 518,323.96 518.22,323.39 518.43,323.75 518.64,324.38 518.85,324.84 519.06,324.28 519.28,324.36 519.49,325.13 519.7,325.12 519.91,324.59 520.13,325.34 520.34,325.98 520.55,325.07 520.76,325.24 520.98,325.02 521.19,324.75 521.4,325.12 521.61,325.85 521.83,325.97 522.04,325.63 522.25,326.32 522.47,325.86 522.68,325.69 522.89,326.2 523.1,326.45 523.32,325.86 523.53,326.05 523.74,326.54 523.96,326.81 524.17,327.64 524.38,327.9 524.6,327.28 524.81,326.93 525.02,326.62 525.24,326.94 525.45,327.57 525.67,327.29 525.88,327.45 526.09,327.74 526.31,327.41 526.52,327.48 526.73,327.94 526.95,328.42 527.16,328 527.38,327.32 527.59,328.17 527.81,328.87 528.02,328.74 528.23,328.23 528.45,327.92 528.66,329.01 528.88,328.95 529.09,328.06 529.31,328.4 529.52,329.44 529.74,330.13 529.95,329.57 530.16,328.32 530.38,328.23 530.59,329.03 530.81,329.05 531.02,329.14 531.24,329.24 531.45,329.68 531.67,329.68 531.88,329.91 532.1,329.98 532.31,329.91 532.53,329.26 532.75,329.27 532.96,330.44 533.18,330.31 533.39,330.43 533.61,330.68 533.82,330.47 534.04,331.6 534.25,331.86 534.47,331.14 534.69,331.45 534.9,331.35 535.12,330.94 535.33,331.61 535.55,332.7 535.77,333.45 535.98,335.03 536.2,336.72 536.41,335.51 536.63,332.91 536.85,331.8 537.06,331.27 537.28,331.61 537.49,332.29 537.71,333.14 537.93,332.72 538.14,332.93 538.36,332.85 538.58,331.86 538.79,331.67 539.01,332.29 539.23,332.51 539.44,332.49 539.66,332.71 539.88,332.26 540.1,333.28 540.31,333.74 540.53,333.93 540.75,333.23 540.96,332.22 541.18,332.61 541.4,332.81 541.62,332.94 541.83,334.06 542.05,334.27 542.27,334.86 542.49,335.19 542.7,333.63 542.92,332.76 543.14,333.79 543.36,334.62 543.57,334.15 543.79,334.53 544.01,334.22 544.23,334.17 544.45,334.41 544.66,334.28 544.88,334.55 545.1,334.25 545.32,334.03 545.54,335.32 545.76,335.89 545.97,336.3 546.19,336.9 546.41,336.96 546.63,336.06 546.85,335.98 547.07,335.37 547.29,335.13 547.5,335.55 547.72,336.07 547.94,335.76 548.16,335.71 548.38,335.38 548.6,335.47 548.82,335.82 549.04,336.34 549.26,336.2 549.47,336.07 549.69,337.03 549.91,337.33 550.13,336.15 550.35,336.96 550.57,337.42 550.79,338.03 551.01,338.46 551.23,337.83 551.45,336.72 551.67,335.93 551.89,335.84 552.11,336.32 552.33,336.75 552.55,338.06 552.77,337.91 552.99,336.74 553.21,337.01 553.43,337.91 553.65,338.1 553.87,337.64 554.09,337.25 554.31,337.16 554.53,337.75 554.75,337.98 554.97,338.02 555.19,337.75 555.41,337.94 555.63,338.46 555.85,338.65 556.07,339.48 556.29,339.21 556.52,339.43 556.74,340.04 556.96,340.05 557.18,339.9 557.4,339.52 557.62,339.31 557.84,339.46 558.06,339.05 558.28,338.92 558.5,339.83 558.73,339.82 558.95,338.75 559.17,339.29 559.39,340.05 559.61,340.11 559.83,339.5 560.05,338.86 560.28,339.08 560.5,339.67 560.72,340.28 560.94,340.83 561.16,340.83 561.39,340.33 561.61,340.34 561.83,340.11 562.05,339.82 562.27,340.31 562.5,341.84 562.72,342.36 562.94,341.34 563.16,341.44 563.39,341.22 563.61,340.9 563.83,340.4 564.05,340.29 564.28,340.62 564.5,341.2 564.72,341.24 564.94,341.14 565.17,341.48 565.39,341.37 565.61,341.28 565.83,341.44 566.06,342.15 566.28,342.26 566.5,342 566.73,342.42 566.95,342.47 567.17,342.61 567.4,342.74 567.62,342.62 567.84,342.18 568.07,342.03 568.29,341.87 568.51,342.09 568.74,341.92 568.96,341.28 569.19,341.56 569.41,342.46 569.63,342.57 569.86,342.69 570.08,343.68 570.3,343.62 570.53,343.7 570.75,344.05 570.98,344.08 571.2,343.99 571.43,342.9 571.65,343.48 571.87,344.32 572.1,344.88 572.32,344.24 572.55,343.7 572.77,344.38 573,344.5 573.22,345.2 573.45,346.8 573.67,346.69 573.89,346.64 574.12,347.29 574.34,348.01 574.57,348.45 574.79,348.89 575.02,348.59 575.24,348.65 575.47,349.3 575.7,350.57 575.92,351.51 576.15,351.94 576.37,353.31 576.6,354.57 576.82,356.02 577.05,358.23 577.27,359.77 577.5,361.56 577.72,364.69 577.95,368.7 578.18,375.76 578.4,384.54 578.63,393.61 578.85,384.49 579.08,376.66 579.31,369.45 579.53,365.66 579.76,362.68 579.98,360.06 580.21,358.4 580.44,357.25 580.66,355.91 580.89,354.53 581.12,353.43 581.34,352.62 581.57,351.6 581.8,350.43 582.02,350.32 582.25,350.35 582.48,350.45 582.7,349.52 582.93,347.88 583.16,347.48 583.38,348.37 583.61,348.73 583.84,348.01 584.06,347.85 584.29,347.3 584.52,347.53 584.75,347.76 584.97,347.4 585.2,346.97 585.43,347.43 585.66,347.99 585.88,348.02 586.11,347.53 586.34,347.3 586.57,347.21 586.79,347.27 587.02,347.22 587.25,347.06 587.48,346.68 587.71,346.93 587.93,346.91 588.16,347.15 588.39,347.8 588.62,347.96 588.85,347.31 589.07,347.03 589.3,346.84 589.53,347.29 589.76,347.48 589.99,348.01 590.22,348.14 590.45,348.17 590.67,348.03 590.9,347.98 591.13,348.13 591.36,347.95 591.59,347.95 591.82,348.52 592.05,348.49 592.28,348.61 592.51,348.53 592.73,348.11 592.96,348.06 593.19,348.05 593.42,348.42 593.65,348.66 593.88,348.81 594.11,348.63 594.34,348.73 594.57,348.78 594.8,348.78 595.03,349.61 595.26,349.88 595.49,349.73 595.72,349.29 595.95,349.13 596.18,349.11 596.41,349.22 596.64,349.04 596.87,348.77 597.1,349.25 597.33,349.62 597.56,349.49 597.79,349.01 598.02,349.73 598.25,349.97 598.48,350.34 598.71,350.74 598.94,350.65 599.17,350.73 599.4,350.54 599.63,350.01 599.86,349.71 600.09,349.74 600.33,349.65 600.56,350.13 600.79,350.77 601.02,350.39 601.25,350.2 601.48,350.09 601.71,350.39 601.94,350.93 602.17,351.16 602.41,350.86 602.64,350.57 602.87,350.66 603.1,350.66 603.33,350.95 603.56,351.61 603.8,351.92 604.03,352.18 604.26,351.93 604.49,351.78 604.72,351.25 604.95,351.1 605.19,351.63 605.42,351.69 605.65,351.57 605.88,351.8 606.12,352 606.35,352.85 606.58,352.54 606.81,352.29 607.04,352.5 607.28,351.87 607.51,352.12 607.74,352.29 607.97,352.29 608.21,352.38 608.44,352.7 608.67,352.9 608.91,352.44 609.14,352.36 609.37,352.71 609.6,353.06 609.84,353.19 610.07,353.14 610.3,352.93 610.54,352.66 610.77,352.17 611,351.62 611.24,351.81 611.47,353.14 611.7,352.94 611.94,352.56 612.17,352.97 612.41,353.2 612.64,353.65 612.87,353.42 613.11,353.18 613.34,352.93 613.57,353.37 613.81,353.01 614.04,353.38 614.28,354.14 614.51,354.23 614.74,353.52 614.98,352.74 615.21,353.14 615.45,354.34 615.68,354.11 615.92,353.68 616.15,354.01 616.39,354.42 616.62,354.36 616.86,353.85 617.09,353.93 617.32,353.8 617.56,354.02 617.79,354.21 618.03,354.52 618.26,354.53 618.5,354.16 618.73,353.95 618.97,354.4 619.21,354.6 619.44,354.71 619.68,354.52 619.91,354.25 620.15,354.86 620.38,355.39 620.62,355.68 620.85,355.75 621.09,355.75 621.32,355.97 621.56,355.17 621.8,354.55 622.03,354.94 622.27,355.23 622.5,355.34 622.74,354.98 622.98,355.2 623.21,355.51 623.45,355.15 623.68,355.71 623.92,355.88 624.16,355.61 624.39,355.5 624.63,356.08 624.87,356.26 625.1,356.81 625.34,357.14 625.58,356.88 625.81,356.09 626.05,356.43 626.29,356.99 626.52,356.93 626.76,356.36 627,356.94 627.24,356.89 627.47,356.58 627.71,356.46 627.95,356.39 628.18,356.04 628.42,356.08 628.66,356.14 628.9,356.5 629.13,356.7 629.37,357.5 629.61,357.9 629.85,357.6 630.08,357.5 630.32,357.75 630.56,357.72 630.8,356.94 631.04,356.98 631.27,357.77 631.51,357.89 631.75,357.47 631.99,357.8 632.23,358.25 632.46,358.23 632.7,357.88 632.94,357.47 633.18,357.38 633.42,358.07 633.66,357.8 633.9,357.66 634.13,358.01 634.37,358.25 634.61,358.26 634.85,358.49 635.09,358.58 635.33,358.66 635.57,358.89 635.81,359.37 636.05,359.07 636.28,359.15 636.52,359.27 636.76,359.51 637,359.09 637.24,358.18 637.48,358.57 637.72,359.52 637.96,359.1 638.2,358.36 638.44,358.67 638.68,359.04 638.92,358.94 639.16,359.1 639.4,359.2 639.64,359.62 639.88,359.84 640.12,360.14 640.36,359.82 640.6,359.35 640.84,359.48 641.08,359.87 641.32,360.3 641.56,360.38 641.8,360.41 642.04,360.55 642.28,360.54 642.52,359.65 642.76,359.52 643,359.92 643.24,360.05 643.49,360.3 643.73,360.88 643.97,361.23 644.21,360.95 644.45,360.91 644.69,360.66 644.93,360.03 645.17,360.61 645.41,360.81 645.66,360.67 645.9,361.07 646.14,361.4 646.38,361.33 646.62,360.91 646.86,361.25 647.1,361.43 647.35,361.59 647.59,361.82 647.83,361.7 648.07,361.44 648.31,361.19 648.56,360.92 648.8,360.49 649.04,360.68 649.28,361.01 649.52,361.51 649.77,361.5 650.01,361.08 650.25,361.68 650.49,362.4 650.74,362.38 650.98,362.06 651.22,362.17 651.46,362.16 651.71,362.13 651.95,362.2 652.19,361.84 652.43,361.27 652.68,361.99 652.92,361.99 653.16,362.07 653.41,362.32 653.65,362.55 653.89,362.48 654.14,362.54 654.38,362.93 654.62,362.82 654.87,362.35 655.11,362 655.35,362.22 655.6,362.7 655.84,362.44 656.08,362.31 656.33,362.67 656.57,362.72 656.82,362.52 657.06,363.3 657.3,363.26 657.55,362.84 657.79,362.89 658.04,363.22 658.28,363.27 658.52,363.59 658.77,363.63 659.01,363.56 659.26,363.79 659.5,363.76 659.75,363.7 659.99,363.39 660.24,363.78 660.48,364.03 660.73,363.91 660.97,364.21 661.22,364.52 661.46,364.24 661.71,364.3 661.95,363.94 662.2,363.41 662.44,364.3 662.69,365.41 662.93,364.96 663.18,365.08 663.42,365.28 663.67,364.6 663.91,364.35 664.16,364.22 664.4,364.25 664.65,364.24 664.9,363.95 665.14,364.61 665.39,365.73 665.63,365.91 665.88,365.26 666.13,365.15 666.37,365.12 666.62,365.42 666.86,365.64 667.11,365.36 667.36,364.79 667.6,364.95 667.85,365.28 668.1,365.14 668.34,365.39 668.59,365.91 668.84,365.56 669.08,365.14 669.33,365.17 669.58,365.24 669.82,365.28 670.07,365.57 670.32,366.09 670.56,366.04 670.81,366.05 671.06,366.04 671.31,366.06 671.55,366.14 671.8,365.99 672.05,366.07 672.29,366.58 672.54,366.92 672.79,367.1 673.04,367.09 673.29,366.44 673.53,366.31 673.78,366.33 674.03,366.4 674.28,366.21 674.52,366.39 674.77,366.41 675.02,366 675.27,365.85 675.52,367.01 675.77,367.16 676.01,366.85 676.26,366.86 676.51,366.79 676.76,367.07 677.01,367 677.26,366.51 677.5,366.64 677.75,367.02 678,366.92 678.25,366.84 678.5,366.88 678.75,367.33 679,367.43 679.25,367.14 679.5,367.4 679.74,367.79 679.99,367.85 680.24,367.52 680.49,367.57 680.74,367.45 680.99,367.11 681.24,366.9 681.49,367.26 681.74,367.36 681.99,367.58 682.24,367.98 682.49,367.77 682.74,367.59 682.99,367.57 683.24,367.66 683.49,367.62 683.74,367.56 683.99,367.23 684.24,367.14 684.49,367.6 684.74,368.15 684.99,368.1 685.24,367.68 685.49,368.21 685.74,368.61 685.99,368.45 686.24,368.42 686.49,368.43 686.74,368.3 687,368.25 687.25,368.2 687.5,367.85 687.75,368.11 688,368.21 688.25,367.92 688.5,367.75 688.75,368.18 689,368.92 689.26,369.13 689.51,369.25 689.76,369.51 690.01,369.22 690.26,369.4 690.51,369.71 690.77,368.97 691.02,368.96 691.27,369.34 691.52,369.8 691.77,370.06 692.02,369.5 692.28,368.89 692.53,369.38 692.78,369.74 693.03,369.66 693.29,369.75 693.54,369.56 693.79,369.28 694.04,370.1 694.3,370.3 694.55,369.33 694.8,368.97 695.05,369.58 695.31,370.29 695.56,369.97 695.81,370.03 696.06,370.6 696.32,370.72 696.57,370.69 696.82,369.96 697.08,369.6 697.33,369.55 697.58,369.87 697.84,370.12 698.09,370.2 698.34,370.43 698.6,371.1 698.85,371.52 699.1,371.64 699.36,371.09 699.61,370.69 699.87,370.52 700.12,370.24 700.37,370.39 700.63,370.7 700.88,370.79 701.14,370.65 701.39,371.03 701.64,371.06 701.9,370.54 702.15,370.13 702.41,370.28 702.66,370.95 702.92,370.91 703.17,370.35 703.42,370.88 703.68,370.99 703.93,370.82 704.19,370.87 704.44,371.26 704.7,371.17 704.95,370.82 705.21,371.35 705.46,372.23 705.72,372.17 705.97,371.65 706.23,371.72 706.48,372.13 706.74,372.22 707,372.1 707.25,371.84 707.51,372.15 707.76,372.49 708.02,373.04 708.27,373.66 708.53,372.66 708.79,371.98 709.04,372.07 709.3,372.31 709.55,372.65 709.81,372.88 710.07,372.83 710.32,372.97 710.58,372.51 710.83,372.54 711.09,372.85 711.35,373.06 711.6,373.26 711.86,373.61 712.12,373.23 712.37,373.5 712.63,373.13 712.89,372.86 713.14,372.9 713.4,373.29 713.66,373.5 713.91,374.07 714.17,373.97 714.43,373.45 714.69,373.74 714.94,374.09 715.2,373.84 715.46,373.91 715.72,373.54 715.97,373.86 716.23,373.81 716.49,374.22 716.75,374.69 717,374.44 717.26,374.36 717.52,374.12 717.78,373.67 718.04,373.86 718.29,374.15 718.55,374.56 718.81,374.49 719.07,374.38 719.33,374.07 719.58,373.98 719.84,374.56 720.1,375.47 720.36,375.73 720.62,375.9 720.88,375.64 721.14,375.43 721.39,375.13 721.65,375.01 721.91,374.95 722.17,374.84 722.43,375.12 722.69,374.98 722.95,374.94 723.21,374.75 723.47,374.37 723.73,374.48 723.99,374.72 724.24,375.54 724.5,375.54 724.76,375.24 725.02,375.46 725.28,375.7 725.54,375.93 725.8,375.57 726.06,375.2 726.32,375.61 726.58,376.37 726.84,377.13 727.1,375.9 727.36,375.13 727.62,375.51 727.88,375.92 728.14,375.71 728.4,376.21 728.66,376.55 728.92,376.69 729.18,376.53 729.45,376.25 729.71,376.1 729.97,375.96 730.23,375.96 730.49,376.99 730.75,377.39 731.01,377.2 731.27,377.36 731.53,377.62 731.79,377.85 732.05,377.66 732.32,377.3 732.58,377.15 732.84,377.11 733.1,376.89 733.36,377.02 733.62,377.41 733.89,377.72 734.15,377.59 734.41,377.58 734.67,377.96 734.93,378.19 735.19,378.33 735.46,378.33 735.72,378.12 735.98,378.29 736.24,378.7 736.5,378.92 736.77,378.27 737.03,377.93 737.29,378.67 737.55,378.63 737.82,378.15 738.08,378.38 738.34,378.31 738.6,377.53 738.87,377.43 739.13,377.46 739.39,377.87 739.66,377.69 739.92,377.1 740.18,377.45 740.45,378.26 740.71,378.87 740.97,378.2 741.24,378.02 741.5,378.56 741.76,379.08 742.03,378.96 742.29,379.05 742.55,379.05 742.82,378.18 743.08,376.67 743.34,374.4 743.61,373.73 743.87,375.15 744.14,377.39 744.4,378.72 744.66,379.38 744.93,379.42 745.19,379.55 745.46,379.62 745.72,379.48 745.99,379.56 746.25,379.49 746.51,379.83 746.78,379.89 747.04,379.53 747.31,379.51 747.57,379.63 747.84,380.45 748.1,380.88 748.37,380.3 748.63,380.27 748.9,380.57 749.16,380.15 749.43,379.9 749.69,379.96 749.96,380.34 750.22,380.48 750.49,380.62 750.76,380.31 751.02,380.36 751.29,380.32 751.55,380.4 751.82,380.43 752.08,380.48 752.35,380.87 752.62,380.58 752.88,380.43 753.15,380.76 753.41,381.1 753.68,380.96 753.95,381.22 754.21,381.82 754.48,381.73 754.75,381.49 755.01,381.14 755.28,381.29 755.55,381.1 755.81,381.08 756.08,381.32 756.35,381.37 756.61,381.13 756.88,381.2 757.15,381.13 757.41,381.39 757.68,381.73 757.95,381.72 758.21,381.25 758.48,381.63 758.75,382.37 759.02,383.09 759.28,385.17 759.55,386.98 759.82,386.55 760.09,384.81 760.35,383.27 760.62,382.27 760.89,381.98 761.16,382.31 761.43,382.35 761.69,382.09 761.96,381.85 762.23,381.92 762.5,382 762.77,382.31 763.04,382.42 763.3,382.56 763.57,382.71 763.84,382.63 764.11,382.63 764.38,382.5 764.65,382.33 764.92,382.29 765.18,382.83 765.45,383.12 765.72,383.44 765.99,383.3 766.26,383.17 766.53,383.13 766.8,382.81 767.07,382.64 767.34,382.61 767.61,382.74 767.88,383.26 768.15,383.39 768.42,383.07 768.69,382.97 768.95,383.11 769.22,382.85 769.49,383.45 769.76,383.37 770.03,383.22 770.3,383.34 770.57,383.14 770.84,383.09 771.11,383.18 771.38,383.46 771.66,383.64 771.93,383.62 772.2,383.68 772.47,383.93 772.74,383.99 773.01,383.58 773.28,383.42 773.55,383.73 773.82,383.64 774.09,383.76 774.36,383.93 774.63,384.31 774.9,384.05 775.18,383.89 775.45,384.09 775.72,384.78 775.99,384.75 776.26,384.26 776.53,384.09 776.8,384.57 777.07,384.77 777.35,384.72 777.62,385.02 777.89,385.14 778.16,384.78 778.43,384.46 778.71,384.31 778.98,384.26 779.25,384.24 779.52,384.73 779.79,385.27 780.07,385.58 780.34,385.53 780.61,384.97 780.88,385.15 781.16,385.51 781.43,385.1 781.7,385 781.97,385.13 782.25,384.88 782.52,385.05 782.79,385.01 783.07,385.09 783.34,385.03 783.61,385.18 783.88,385.52 784.16,385.48 784.43,385.2 784.7,385.64 784.98,385.79 785.25,385.81 785.52,385.78 785.8,385.71 786.07,385.47 786.35,385.12 786.62,385.38 786.89,385.77 787.17,385.33 787.44,385.23 787.72,385.7 787.99,385.66 788.26,385.77 788.54,386.04 788.81,385.95 789.09,386.02 789.36,386 789.64,386.03 789.91,386.43 790.18,386.23 790.46,386.35 790.73,386.39 791.01,386.7 791.28,386.42 791.56,386.33 791.83,386.56 792.11,386.58 792.38,386.43 792.66,386.34 792.93,386.15 793.21,386.58 793.48,386.79 793.76,386.81 794.04,386.65 794.31,386.29 794.59,386.21 794.86,386.52 795.14,386.58 795.41,386.48 795.69,386.74 795.97,386.69 796.24,386.58 796.52,386.86 796.79,386.92 797.07,386.83 797.35,386.69 797.62,386.59 797.9,386.89 798.18,387.28 798.45,387.42 798.73,387.02 799,387 799.28,387.2 799.56,387.15 799.84,386.86 800.11,386.8 800.39,386.96 800.67,387.15 800.94,387.7 801.22,387.73 801.5,387.47 801.77,387.91 802.05,388.28 802.33,387.97 802.61,387.86 802.88,387.59 803.16,387.25 803.44,387.88 803.72,388.03 803.99,387.97 804.27,387.6 804.55,387.37 804.83,387.74 805.11,388.25 805.38,388.15 805.66,387.69 805.94,387.59 806.22,387.74 806.5,387.72 806.78,388.07 807.05,388.23 807.33,388.41 807.61,388.44 807.89,388.24 808.17,388.15 808.45,388.16 808.73,388.13 809.01,388.43 809.28,388.66 809.56,388.81 809.84,388.96 810.12,388.6 810.4,388.57 810.68,388.52 810.96,388.48 811.24,388.57 811.52,388.25 811.8,388.36 812.08,388.62 812.36,389 812.64,389.25 812.92,389.66 813.2,389.67 813.48,389.61 813.76,389.09 814.04,389.15 814.32,389.18 814.6,389.16 814.88,389.26 815.16,389.4 815.44,389.14 815.72,388.98 816,389.04 816.28,389.4 816.56,389.18 816.84,389.11 817.12,389.39 817.4,389.49 817.68,390.02 817.97,389.94 818.25,390.08 818.53,390.27 818.81,389.88 819.09,389.43 819.37,389.58 819.65,389.92 819.93,390.27 820.22,390.34 820.5,390.35 820.78,390.35 821.06,390.33 821.34,390.4 821.62,390.48 821.91,390.68 822.19,390.33 822.47,390 822.75,389.34 823.03,389.55 823.32,390.32 823.6,390.24 823.88,390.25 824.16,390.61 824.45,390.66 824.73,390.39 825.01,390.68 825.29,391.1 825.58,390.78 825.86,390.8 826.14,390.51 826.43,390.73 826.71,390.77 826.99,390.87 827.27,390.99 827.56,391.24 827.84,391.41 828.12,391.32 828.41,391.01 828.69,391.08 828.97,391.66 829.26,391.57 829.54,391.34 829.83,391.34 830.11,391.69 830.39,391.63 830.68,391.54 830.96,391.47 831.25,391.59 831.53,391.68 831.81,391.37 832.1,391.63 832.38,391.73 832.67,391.88 832.95,392.12 833.24,392.06 833.52,391.85 833.8,391.65 834.09,391.41 834.37,391.8 834.66,392.07 834.94,392.23 835.23,392.64 835.51,392.64 835.8,392.87 836.08,392.78 836.37,392.75 836.65,392.83 836.94,392.66 837.23,392.59 837.51,392.83 837.8,392.86 838.08,392.93 838.37,393.02 838.65,392.65 838.94,392.83 839.23,393 839.51,393.23 839.8,393.28 840.08,393.03 840.37,392.96 840.66,393.2 840.94,393.29 841.23,392.99 841.51,392.87 841.8,392.84 842.09,393.33 842.37,393.3 842.66,393.28 842.95,393.25 843.23,393.46 843.52,393.69 843.81,393.55 844.1,393.34 844.38,393.21 844.67,393.57 844.96,393.78 845.24,393.85 845.53,394.06 845.82,393.97 846.11,393.85 846.39,393.9 846.68,394.19 846.97,394.3 847.26,394.1 847.54,394.33 847.83,394.57 848.12,394.34 848.41,394.32 848.7,394.24 848.98,394.07 849.27,394.21 849.56,394.11 849.85,394.16 850.14,394.42 850.43,394.47 850.71,394.22 851,394.38 851.29,394.61 851.58,394.97 851.87,394.85 852.16,394.8 852.45,395.02 852.74,395.01 853.03,394.96 853.31,394.65 853.6,394.95 853.89,395.37 854.18,395.6 854.47,395.78 854.76,395.82 855.05,395.76 855.34,395.47 855.63,395.18 855.92,395.38 856.21,395.55 856.5,395.91 856.79,396.15 857.08,395.94 857.37,395.61 857.66,395.77 857.95,396.02 858.24,395.93 858.53,395.81 858.82,395.85 859.11,396.08 859.4,396.05 859.69,396.54 859.98,396.73 860.27,396.63 860.56,396.41 860.86,395.88 861.15,396.01 861.44,396.77 861.73,397.28 862.02,397.45 862.31,397.53 862.6,397.48 862.89,398.05 863.18,397.1 863.48,396.59 863.77,395.69 864.06,395.02 864.35,395.21 864.64,395.43 864.93,394.93 865.23,394.47 865.52,394.48 865.81,395.09 866.1,395.54 866.39,395.64 866.69,395.85 866.98,396.29 867.27,397.17 867.56,397.89 867.86,398.8 868.15,400.28 868.44,398.63 868.73,397.55 869.03,396.81 869.32,395.97 869.61,395.35 869.91,395.31 870.2,394.8 870.49,394.44 870.78,394.15 871.08,393.77 871.37,393.55 871.66,393.34 871.96,393.54 872.25,394.43 872.55,394.83 872.84,395.05 873.13,395.59 873.43,396.32 873.72,397.61 874.01,398.6 874.31,399.82 874.6,401.06 874.9,403.28 875.19,401.11 875.48,399.76 875.78,399.01 876.07,397.88 876.37,397.01 876.66,396.52 876.96,395.29 877.25,394.25 877.55,393.7 877.84,393.57 878.14,393.01 878.43,392.76 878.73,392.43 879.02,392.32 879.32,392.63 879.61,393.39 879.91,393.98 880.2,394.23 880.5,395.05 880.79,396.04 881.09,396.96 881.38,397.74 881.68,398.44 881.97,399.49 882.27,401.11 882.57,403.17 882.86,406.04 883.16,403.28 883.45,400.96 883.75,399.85 884.05,399 884.34,398.13 884.64,397.23 884.94,396.54 885.23,395.94 885.53,395.06 885.83,394.62 886.12,394.25 886.42,393.51 886.72,393.13 887.01,392.81 887.31,393.27 887.61,392.92 887.9,392.4 888.2,392.79 888.5,393.6 888.8,393.65 889.09,393.78 889.39,394.21 889.69,394.86 889.99,395.31 890.28,395.92 890.58,397.18 890.88,398.37 891.18,399.82 891.47,400.83 891.77,401.71 892.07,402.6 892.37,404.77 892.67,408.02 892.96,405.51 893.26,403.32 893.56,401.78 893.86,400.7 894.16,399.55 894.46,398.43 894.76,397.49 895.05,396.9 895.35,395.74 895.65,395.35 895.95,395.05 896.25,394.22 896.55,393.6 896.85,393.05 897.15,393.3 897.45,393.09 897.75,392.77 898.05,393.02 898.34,392.93 898.64,392.47 898.94,392.74 899.24,393.07 899.54,393.29 899.84,393.4 900.14,393.44 900.44,393.54 900.74,393.78 901.04,394 901.34,394.29 901.64,395.42 901.94,396.19 902.24,396.18 902.55,396.79 902.85,398 903.15,398.93 903.45,399.4 903.75,400.34 904.05,401.72 904.35,402.92 904.65,404.42 904.95,406.78 905.25,408.93 905.55,406.14 905.85,404.14 906.16,402.6 906.46,401.39 906.76,400.66 907.06,399.9 907.36,398.78 907.66,397.84 907.97,397.24 908.27,396.67 908.57,396.08 908.87,395.39 909.17,395.29 909.47,395 909.78,394.49 910.08,393.85 910.38,393.62 910.68,393.95 910.99,393.77 911.29,393.5 911.59,393.87 911.89,394.06 912.2,393.76 912.5,393.54 912.8,393.16 913.11,392.99 913.41,392.99 913.71,393.54 914.01,393.96 914.32,393.68 914.62,393.61 914.92,394.2 915.23,393.96 915.53,393.74 915.83,394.27 916.14,394.48 916.44,394.94 916.75,394.83 917.05,394.85 917.35,395.11 917.66,395.36 917.96,395.8 918.26,396.33 918.57,397.13 918.87,397.77 919.18,398.71 919.48,398.92 919.79,399.85 920.09,401.15 920.4,402.61 920.7,404 921,405.19 921.31,406.37 921.61,408.62 921.92,411.65 922.22,409.38 922.53,407 922.83,405.35 923.14,404.19 923.45,403.31 923.75,402.07 924.06,400.17 924.36,399.29 924.67,398.79 924.97,398.51 925.28,397.49 925.58,397.37 925.89,396.78 926.2,396.23 926.5,395.84 926.81,395.62 927.11,395.51 927.42,395.82 927.73,395.67 928.03,395.62 928.34,396.01 928.65,396.04 928.95,395.51 929.26,394.93 929.57,394.66 929.87,394.18 930.18,394.24 930.49,394.9 930.79,395.08 931.1,395.16 931.41,395.07 931.71,395.29 932.02,395.63 932.33,395.46 932.64,395.16 932.94,395.39 933.25,395.4 933.56,394.7 933.87,394.6 934.17,395.07 934.48,395.01 934.79,395.03 935.1,395.52 935.41,396.06 935.71,395.79 936.02,395.51 936.33,395.51 936.64,395.34 936.95,395.69 937.26,396.01 937.56,396.24 937.87,396.19 938.18,396.15 938.49,396.18 938.8,395.99 939.11,395.81 939.42,395.91 939.73,396.23 940.03,397.02 940.34,397.86 940.65,398.08 940.96,398.2 941.27,398.57 941.58,399.21 941.89,399.44 942.2,399.97 942.51,400.5 942.82,401.4 943.13,402.92 943.44,404.03 943.75,405.33 944.06,406.37 944.37,407.64 944.68,409.93 944.99,412.72 945.3,409.84 945.61,407.64 945.92,406.21 946.23,404.73 946.54,403.28 946.85,402.05 947.16,401.4 947.47,400.78 947.79,400.36 948.1,399.36 948.41,398.41 948.72,397.63 949.03,397.2 949.34,396.87 949.65,396.84 949.96,396.15 950.27,395.7 950.59,396.02 950.9,396.19 951.21,396.18 951.52,396.66 951.83,397.02 952.15,397.7 952.46,398.56 952.77,398.93 953.08,399.47 953.39,399.96 953.71,399.72 954.02,399.63 954.33,399.86 954.64,399.93 954.96,399.38 955.27,398.92 955.58,398.89 955.89,399.33 956.21,399.58 956.52,399.28 956.83,399.4 957.14,399.55 957.46,399.41 957.77,399.4 958.08,399.61 958.4,399.64" fill="none" stroke="#000" stroke-width="2.0" stroke-linejoin="round" />
<polyline points="75.5,615.12 75.6,615.31 76.48,614.99 77.37,613.51 78.25,611.26 79.14,607.46 80.02,604.42 80.91,602.73 81.79,603.18 82.68,601.88 83.56,598.88 84.45,594.89 85.34,594.75 86.22,594.02 87.11,592.67 88,593.37 88.88,594.22 89.77,594.56 90.66,594.05 91.54,593.37 92.43,593.25 93.32,591.91 94.21,590.48 95.1,595.09 95.99,596.81 96.87,592.52 97.76,590.16 98.65,591.43 99.54,590.15 100.43,589.38 101.32,591.88 102.21,593.24 103.1,594.78 103.99,595.03 104.88,593.73 105.77,591.08 106.67,589.6 107.56,591.56 108.45,594.79 109.34,595.48 110.23,594.42 111.12,593.07 112.02,593.17 112.91,595.87 113.8,594.46 114.7,590.04 115.59,590.29 116.48,592.26 117.38,593.69 118.27,591.02 119.16,591.5 120.06,594.88 120.95,594.55 121.85,592.35 122.74,592.96 123.64,591.52 124.53,591.21 125.43,589.46 126.32,587.58 127.22,588.17 128.11,593.49 129.01,594.36 129.91,590.56 130.8,587.22 131.7,589.1 132.6,591.5 133.5,589.48 134.39,588.75 135.29,588.56 136.19,590.37 137.09,588.14 137.98,587.59 138.88,590.52 139.78,590.02 140.68,589.04 141.58,589.94 142.48,590.83 143.38,589.86 144.28,591.53 145.18,591.19 146.08,590.44 146.98,590.88 147.88,592.98 148.78,598.02 149.68,599.53 150.58,596.46 151.48,595.81 152.39,599.49 153.29,606.42 154.19,607.84 155.09,606.42 155.99,603.45 156.9,602.98 157.8,606.28 158.7,607.15 159.61,607.11 160.51,608.67 161.41,611.4 162.32,617.02 163.22,626.4 164.13,629.45 165.03,631.17 165.94,637.2 166.84,641.4 167.75,649.27 168.65,656.86 169.56,661.64 170.46,670.83 171.37,680.59 172.27,689.37 173.18,702.2 174.09,716.61 174.99,729.55 175.9,740.08 176.81,747.39 177.72,760.22 178.62,778.62 179.53,798.18 180.44,819.6 181.35,849.14 182.26,877.5 183.17,848.01 184.07,819.41 184.98,797.36 185.89,778.43 186.8,764.31 187.71,752.45 188.62,736.91 189.53,722.5 190.44,712.49 191.35,701.09 192.26,689.68 193.18,678.52 194.09,667.91 195,656.95 195.91,651.5 196.82,646.73 197.73,640.3 198.65,633.25 199.56,626.62 200.47,624.33 201.38,621.16 202.3,616.71 203.21,614.99 204.12,614.87 205.04,614.19 205.95,610.5 206.87,607.56 207.78,604.93 208.7,604.96 209.61,602.66 210.52,601.38 211.44,599.92 212.36,595.64 213.27,594.06 214.19,595.93 215.1,597.43 216.02,597.93 216.94,594.06 217.85,592.39 218.77,591.25 219.69,591.94 220.6,590.94 221.52,590.16 222.44,590.53 223.36,592.15 224.28,593.31 225.19,593.29 226.11,591.88 227.03,591.78 227.95,591.56 228.87,592.44 229.79,588.95 230.71,588.45 231.63,590.18 232.55,591.96 233.47,592.28 234.39,590.9 235.31,588.97 236.23,588.72 237.15,588.23 238.07,587.36 239,587.32 239.92,587.77 240.84,589.68 241.76,590.2 242.68,586.87 243.61,587.34 244.53,591.25 245.45,589.04 246.38,584.56 247.3,585.15 248.22,589.23 249.15,595.07 250.07,595.58 251,595.17 251.92,593.78 252.84,591.65 253.77,590.07 254.69,591.9 255.62,593.67 256.55,595.61 257.47,595.41 258.4,591.03 259.32,587.77 260.25,586.99 261.18,585.8 262.1,587.1 263.03,588.23 263.96,590.22 264.89,586.96 265.81,584.64 266.74,586.9 267.67,586.58 268.6,586.48 269.53,587.34 270.46,587.24 271.38,587.98 272.31,588.7 273.24,588.11 274.17,587.99 275.1,589.09 276.03,591.52 276.96,589.03 277.89,585.63 278.82,584.95 279.76,585.15 280.69,586.26 281.62,585.02 282.55,584.83 283.48,587.64 284.41,586.57 285.35,583.73 286.28,588.37 287.21,590.82 288.14,587.24 289.08,588.53 290.01,592.04 290.94,591.93 291.88,590.36 292.81,591.95 293.75,592.57 294.68,592.37 295.62,590.42 296.55,590.77 297.48,591.66 298.42,589.03 299.36,590.64 300.29,589.69 301.23,586.79 302.16,589.22 303.1,591.31 304.04,590.88 304.97,589.73 305.91,592.53 306.85,596.46 307.78,597.76 308.72,597.76 309.66,597.67 310.6,597.11 311.54,593.65 312.48,592.66 313.41,592.84 314.35,590.4 315.29,587.73 316.23,589.84 317.17,590.32 318.11,589.28 319.05,589.92 319.99,589.59 320.93,590.37 321.87,592.08 322.81,590.98 323.75,591.61 324.7,591.74 325.64,591.73 326.58,592.06 327.52,589.44 328.46,587.15 329.4,586.49 330.35,589.99 331.29,590.28 332.23,589.12 333.18,592.64 334.12,591.71 335.06,588.99 336.01,589.31 336.95,587.39 337.9,590.49 338.84,592.59 339.79,591.29 340.73,590.96 341.68,591.77 342.62,591.69 343.57,591.11 344.51,592.02 345.46,592.64 346.41,591.55 347.35,592.08 348.3,593.39 349.25,591.49 350.19,590.1 351.14,589.22 352.09,591.88 353.04,593.97 353.98,592.87 354.93,590.03 355.88,590.52 356.83,592.97 357.78,595.19 358.73,595.03 359.68,593.92 360.63,593.8 361.58,594.65 362.53,594.16 363.48,595.56 364.43,596.67 365.38,599.69 366.33,599.65 367.28,601.95 368.23,604.45 369.18,602.76 370.13,602.98 371.09,603.37 372.04,606.2 372.99,606.52 373.94,607.3 374.9,610.09 375.85,609.41 376.8,608.7 377.76,610.85 378.71,611.11 379.66,608.13 380.62,606.95 381.57,611.44 382.53,613.37 383.48,614.08 384.44,613.4 385.39,615.79 386.35,616.26 387.3,616.86 388.26,620.33 389.22,621.52 390.17,624.97 391.13,629.95 392.09,632.43 393.04,635.41 394,639.81 394.96,643.78 395.91,649.88 396.87,655.41 397.83,660.22 398.79,665.76 399.75,676.29 400.71,687.48 401.67,695.91 402.62,707.74 403.58,720.89 404.54,734.56 405.5,746.32 406.46,760.17 407.42,778.82 408.39,799.05 409.35,822.82 410.31,851.56 411.27,877.74 412.23,848.69 413.19,824.51 414.15,802.29 415.12,778.9 416.08,758.75 417.04,746.18 418,732.5 418.97,717.77 419.93,706.01 420.89,695.35 421.86,684.89 422.82,674.19 423.78,669.13 424.75,663.5 425.71,653.27 426.68,642.59 427.64,638.35 428.61,637.43 429.57,634.54 430.54,627.6 431.51,621.53 432.47,618.13 433.44,617.09 434.4,616.28 435.37,613.25 436.34,608.76 437.31,604.94 438.27,604 439.24,604.6 440.21,602.87 441.18,599.1 442.15,597.36 443.11,598.75 444.08,601.71 445.05,599.65 446.02,594.7 446.99,592.35 447.96,592.62 448.93,593.05 449.9,592.87 450.87,593.83 451.84,598.9 452.81,604.67 453.78,607.29 454.75,603.92 455.73,596.89 456.7,592.35 457.67,591.09 458.64,592.17 459.61,592.66 460.59,592.77 461.56,597.68 462.53,605.54 463.51,610.71 464.48,605.4 465.45,604.44 466.43,608.75 467.4,602.09 468.38,594.96 469.35,592.41 470.32,591.29 471.3,589.98 472.27,589.9 473.25,591.35 474.23,591.02 475.2,588.77 476.18,588.77 477.15,591.19 478.13,590.8 479.11,588.4 480.09,587.33 481.06,588.93 482.04,590.18 483.02,591.34 484,591.99 484.97,595.7 485.95,598.5 486.93,595.17 487.91,589.4 488.89,587.55 489.87,588.52 490.85,591.33 491.83,592.87 492.81,592.54 493.79,591.08 494.77,591.96 495.75,591.66 496.73,590.5 497.71,591.8 498.69,591.23 499.67,591.49 500.66,589.79 501.64,587.71 502.62,589.14 503.6,590.62 504.59,590.93 505.57,591.12 506.55,592.01 507.54,593.37 508.52,593.51 509.5,593.92 510.49,596.44 511.47,597.48 512.46,595.18 513.44,591.75 514.43,590.1 515.41,589.01 516.4,587.96 517.38,588.57 518.37,590.66 519.35,592.44 520.34,593.4 521.33,592.22 522.31,590.99 523.3,590.65 524.29,590.33 525.28,589.62 526.26,589.89 527.25,592.11 528.24,592.66 529.23,591.97 530.22,590.3 531.21,590.22 532.19,593.2 533.18,596.45 534.17,599.85 535.16,601.79 536.15,600.41 537.14,596.84 538.13,595.2 539.12,593.43 540.12,591.28 541.11,590.21 542.1,589.42 543.09,589.91 544.08,590.61 545.07,595.43 546.07,610.35 547.06,623.99 548.05,617.04 549.04,600.85 550.04,592.83 551.03,589.75 552.02,587.89 553.02,589.83 554.01,591 555.01,589.61 556,588.61 557,590.01 557.99,590.93 558.99,591.54 559.98,591.99 560.98,590.63 561.97,589.21 562.97,589.69 563.97,591.93 564.96,596.1 565.96,598.38 566.96,597.94 567.95,595.83 568.95,592.36 569.95,590.64 570.95,591.67 571.94,591.87 572.94,591.46 573.94,592.44 574.94,590.96 575.94,589.15 576.94,589.35 577.94,590.17 578.94,590.4 579.94,591.26 580.94,592.6 581.94,591.79 582.94,590.28 583.94,589.67 584.94,590.05 585.94,589.71 586.95,592.44 587.95,594.76 588.95,592.82 589.95,593.42 590.96,593.43 591.96,591.24 592.96,591.34 593.96,591.26 594.97,590.39 595.97,591.22 596.98,594.59 597.98,597.97 598.98,596.31 599.99,592.23 600.99,591.13 602,590.71 603,589.15 604.01,589.51 605.02,591.4 606.02,590.12 607.03,589.79 608.04,590.34 609.04,591.89 610.05,593.46 611.06,597.43 612.06,605.91 613.07,611.32 614.08,604.95 615.09,595.39 616.1,593.03 617.1,594.22 618.11,595.27 619.12,596.21 620.13,593.11 621.14,590.54 622.15,591.38 623.16,592.18 624.17,593.1 625.18,594.89 626.19,599.14 627.2,600.54 628.21,595.75 629.23,591.69 630.24,591.7 631.25,591.54 632.26,593.46 633.27,596.52 634.29,596.6 635.3,595.1 636.31,592.96 637.33,592.59 638.34,592.53 639.35,590.82 640.37,590.36 641.38,589.48 642.4,591.09 643.41,593.03 644.43,596.87 645.44,601.11 646.46,599.84 647.47,595.04 648.49,591.86 649.5,590.73 650.52,589.42 651.54,590.13 652.55,590.9 653.57,591.09 654.59,591.72 655.61,591.34 656.62,590.46 657.64,589.6 658.66,588.83 659.68,589.86 660.7,590.61 661.71,590.94 662.73,589.85 663.75,589.67 664.77,589.43 665.79,590.98 666.81,589.98 667.83,590.42 668.85,591.3 669.87,591.52 670.9,590.03 671.92,589.75 672.94,591.31 673.96,591.15 674.98,591.12 676,590.53 677.03,590.78 678.05,592.43 679.07,592.93 680.1,591.28 681.12,590.47 682.14,591.48 683.17,590.89 684.19,590.37 685.21,591.54 686.24,592.44 687.26,592.25 688.29,592.39 689.31,593.05 690.34,592.39 691.37,591.64 692.39,589.05 693.42,589.72 694.44,590.59 695.47,589.75 696.5,590.82 697.52,591.71 698.55,592.39 699.58,593.05 700.61,591.06 701.64,590.81 702.66,591.53 703.69,591.29 704.72,589.68 705.75,590.29 706.78,590.73 707.81,590.28 708.84,591.08 709.87,591.01 710.9,589.73 711.93,589.36 712.96,589.51 713.99,589.82 715.02,590.76 716.05,591.52 717.09,590.39 718.12,589.06 719.15,589.81 720.18,589.95 721.21,590.77 722.25,590.83 723.28,591.11 724.31,590.91 725.35,591.73 726.38,592.59 727.42,591.26 728.45,590.13 729.48,591.09 730.52,591.54 731.55,591.42 732.59,590.9 733.62,589.42 734.66,584.5 735.7,588.58 736.73,591.18 737.77,589.72 738.81,590.35 739.84,591.41 740.88,591.7 741.92,590.43 742.95,590.2 743.99,591.15 745.03,592.76 746.07,592.81 747.11,590.65 748.15,588.56 749.18,589.41 750.22,588.96 751.26,587.78 752.3,588.32 753.34,590.43 754.38,592.05 755.42,590.68 756.46,589.61 757.51,590.02 758.55,591.29 759.59,591.7 760.63,590 761.67,589.18 762.71,590.09 763.76,590.56 764.8,590.82 765.84,592 766.89,591.78 767.93,591.44 768.97,591.65 770.02,590.35 771.06,589.99 772.1,590.41 773.15,591.61 774.19,591.17 775.24,591.25 776.28,590.97 777.33,591.22 778.38,589.68 779.42,588.35 780.47,590.15 781.51,590.22 782.56,589.49 783.61,588.9 784.66,589 785.7,589.9 786.75,591.67 787.8,592.04 788.85,592.44 789.89,591.55 790.94,589.72 791.99,590.65 793.04,591.76 794.09,590.86 795.14,589.99 796.19,591.08 797.24,591.53 798.29,591.92 799.34,591.58 800.39,589.92 801.44,589.23 802.49,589.94 803.55,589.38 804.6,589.89 805.65,588.72 806.7,588.71 807.75,588.78 808.81,590.33 809.86,589.62 810.91,589.62 811.97,591.47 813.02,592.03 814.08,591.4 815.13,590.9 816.18,589.95 817.24,590.66 818.29,590.76 819.35,589.72 820.4,588.17 821.46,588.3 822.52,589.13 823.57,589.94 824.63,590.86 825.68,592.37 826.74,591.89 827.8,591.64 828.86,590.91 829.91,590.81 830.97,591.08 832.03,590.6 833.09,590.73 834.15,591.22 835.21,590.07 836.26,589.9 837.32,590.26 838.38,589.58 839.44,588.54 840.5,588.39 841.56,588.84 842.62,588.8 843.69,587.4 844.75,588.56 845.81,591.37 846.87,591.25 847.93,591.93 848.99,589.9 850.06,589.03 851.12,589.89 852.18,590.16 853.24,589.63 854.31,589.43 855.37,590.54 856.43,592.08 857.5,591.33 858.56,589.84 859.63,590.17 860.69,590.25 861.76,589.83 862.82,591.32 863.89,592.73 864.95,592.26 866.02,590.69 867.08,591.28 868.15,590.93 869.22,591.91 870.28,592.82 871.35,593.04 872.42,594.28 873.49,595.07 874.56,594.05 875.62,594.45 876.69,596.41 877.76,596.62 878.83,595.19 879.9,596.47 880.97,598.18 882.04,600.64 883.11,601.47 884.18,601.29 885.25,604.63 886.32,606.9 887.39,607.51 888.46,610.45 889.53,614.49 890.6,617.52 891.68,619.67 892.75,623.19 893.82,627.9 894.89,632.44 895.96,636.87 897.04,643.51 898.11,647.75 899.18,653.5 900.26,663.44 901.33,672.97 902.41,683.41 903.48,692.56 904.56,701.08 905.63,713.16 906.71,726.15 907.78,741.88 908.86,760.91 909.93,778.5 911.01,794.98 912.09,819.56 913.16,859.93 914.24,819.26 915.32,792.97 916.4,774.36 917.47,758.71 918.55,743.52 919.63,728.98 920.71,716.21 921.79,704.72 922.87,693.53 923.95,681.2 925.03,669.88 926.1,662.03 927.18,654.78 928.27,648.97 929.35,641.77 930.43,635.85 931.51,630.62 932.59,626.77 933.67,623.95 934.75,620.28 935.83,616 936.92,612.74 938,609.4 939.08,607.51 940.16,605.01 941.25,602.72 942.33,601.39 943.42,600.32 944.5,600.16 945.58,601.43 946.67,600.47 947.75,596.26 948.84,594.09 949.92,593.84 951.01,593.95 952.09,595.59 953.18,596.97 954.27,594.56 955.35,592.25 956.44,592.8 957.53,592.71 958.61,591.8 959.7,592.22 960.79,592.49 961.88,592.48 962.97,591.66 964.05,590.16 965.14,588.66 966.23,588.91 967.32,590.65 968.41,590.81 969.5,590.88 970.59,595.62 971.68,604.87 972.77,608.68 973.86,603.66 974.95,594.92 976.04,591.15 977.14,590.6 978.23,590.86 979.32,591.24 980.41,592.19 981.5,591.36 982.6,591.28 983.69,590.76 984.78,589.85 985.88,589.83 986.97,589.63 988.06,589.56 989.16,588.64 990.25,590.43 991.35,591.42 992.44,590.97 993.54,590.45 994.63,590.65 995.73,590.06 996.83,590.41 997.92,590.56 999.02,590.4 999.25,590.25" fill="none" stroke="#000" stroke-width="1.4" stroke-linejoin="round" />
<line x1="110.0" y1="0.5" x2="999.35" y2="0.5" stroke="#111" stroke-width="1.1"/>
<line x1="110.0" y1="433.1" x2="999.35" y2="433.1" stroke="#333" stroke-width="1.3"/>
<line x1="110.6" y1="0" x2="110.6" y2="433.75" stroke="#111" stroke-width="1.25"/>
<line x1="998.7" y1="0" x2="998.7" y2="433.75" stroke="#111" stroke-width="1.3"/>
<line x1="75.0" y1="531.0" x2="1000" y2="531.0" stroke="#111" stroke-width="1.0"/>
<line x1="75.0" y1="949.3" x2="1000" y2="949.3" stroke="#333" stroke-width="1.3"/>
<line x1="75.6" y1="530.5" x2="75.6" y2="949.95" stroke="#111" stroke-width="1.25"/>
<line x1="999.5" y1="530.5" x2="999.5" y2="949.95" stroke="#111" stroke-width="1.0"/>
<line x1="195.5" y1="433.0" x2="195.5" y2="428.5" stroke="#111" stroke-width="1.3"/>
<text x="195.5" y="458.2" font-size="26.5" text-anchor="middle">4000</text>
<line x1="345" y1="433.0" x2="345" y2="428.5" stroke="#111" stroke-width="1.3"/>
<text x="345" y="458.2" font-size="26.5" text-anchor="middle">5000</text>
<line x1="494.5" y1="433.0" x2="494.5" y2="428.5" stroke="#111" stroke-width="1.3"/>
<text x="494.5" y="458.2" font-size="26.5" text-anchor="middle">6000</text>
<line x1="644" y1="433.0" x2="644" y2="428.5" stroke="#111" stroke-width="1.3"/>
<text x="644" y="458.2" font-size="26.5" text-anchor="middle">7000</text>
<line x1="793.5" y1="433.0" x2="793.5" y2="428.5" stroke="#111" stroke-width="1.3"/>
<text x="793.5" y="458.2" font-size="26.5" text-anchor="middle">8000</text>
<line x1="943" y1="433.0" x2="943" y2="428.5" stroke="#111" stroke-width="1.3"/>
<text x="943" y="458.2" font-size="26.5" text-anchor="middle">9000</text>
<line x1="110.75" y1="373.75" x2="115.25" y2="373.75" stroke="#111" stroke-width="1.3"/>
<text x="105.9" y="384.25" font-size="26.5" text-anchor="end">500</text>
<line x1="110.75" y1="308.5" x2="115.25" y2="308.5" stroke="#111" stroke-width="1.3"/>
<text x="105.9" y="319" font-size="26.5" text-anchor="end">1000</text>
<line x1="110.75" y1="243.25" x2="115.25" y2="243.25" stroke="#111" stroke-width="1.3"/>
<text x="105.9" y="253.75" font-size="26.5" text-anchor="end">1500</text>
<line x1="110.75" y1="178" x2="115.25" y2="178" stroke="#111" stroke-width="1.3"/>
<text x="105.9" y="188.5" font-size="26.5" text-anchor="end">2000</text>
<line x1="110.75" y1="112.75" x2="115.25" y2="112.75" stroke="#111" stroke-width="1.3"/>
<text x="105.9" y="123.25" font-size="26.5" text-anchor="end">2500</text>
<line x1="110.75" y1="47.5" x2="115.25" y2="47.5" stroke="#111" stroke-width="1.3"/>
<text x="105.9" y="58" font-size="26.5" text-anchor="end">3000</text>
<line x1="85.12" y1="948.75" x2="85.12" y2="944.25" stroke="#111" stroke-width="1.3"/>
<text x="85.12" y="971.0" font-size="23.8" text-anchor="middle">4000</text>
<line x1="277.57" y1="948.75" x2="277.57" y2="944.25" stroke="#111" stroke-width="1.3"/>
<text x="277.57" y="971.0" font-size="23.8" text-anchor="middle">4200</text>
<line x1="470.02" y1="948.75" x2="470.02" y2="944.25" stroke="#111" stroke-width="1.3"/>
<text x="470.02" y="971.0" font-size="23.8" text-anchor="middle">4400</text>
<line x1="662.46" y1="948.75" x2="662.46" y2="944.25" stroke="#111" stroke-width="1.3"/>
<text x="662.46" y="971.0" font-size="23.8" text-anchor="middle">4600</text>
<line x1="854.91" y1="948.75" x2="854.91" y2="944.25" stroke="#111" stroke-width="1.3"/>
<text x="854.91" y="971.0" font-size="23.8" text-anchor="middle">4800</text>
<line x1="75.5" y1="908.9" x2="80.0" y2="908.9" stroke="#111" stroke-width="1.3"/>
<text x="71.4" y="918.1" font-size="23.8" text-anchor="end">0.2</text>
<line x1="75.5" y1="829.3" x2="80.0" y2="829.3" stroke="#111" stroke-width="1.3"/>
<text x="71.4" y="838.5" font-size="23.8" text-anchor="end">0.4</text>
<line x1="75.5" y1="749.7" x2="80.0" y2="749.7" stroke="#111" stroke-width="1.3"/>
<text x="71.4" y="758.9" font-size="23.8" text-anchor="end">0.6</text>
<line x1="75.5" y1="670.1" x2="80.0" y2="670.1" stroke="#111" stroke-width="1.3"/>
<text x="71.4" y="679.3" font-size="23.8" text-anchor="end">0.8</text>
<line x1="75.5" y1="590.5" x2="80.0" y2="590.5" stroke="#111" stroke-width="1.3"/>
<text x="71.4" y="599.7" font-size="23.8" text-anchor="end">1.0</text>
<line x1="75.5" y1="670.2" x2="999.25" y2="670.2" stroke="#000" stroke-width="1.55"/>
<text x="431" y="500" font-size="33.3">Wavelength(<tspan font-style="italic">Å</tspan>)</text>
<text transform="translate(26.3,216.7) rotate(-90)" font-size="33.3" text-anchor="middle">Flux</text>
<text x="426.5" y="1008.5" font-size="30.0">Wavelength(<tspan font-style="italic">Å</tspan>)</text>
<text transform="translate(23.2,739.7) rotate(-90)" font-size="30.0" text-anchor="middle">Normalized flux</text>
<text x="162.1" y="570.6" font-size="23.8">H<tspan font-style="italic">δ</tspan></text>
<text x="402.66" y="570.6" font-size="23.8">H<tspan font-style="italic">γ</tspan></text>
<text x="893.4" y="570.6" font-size="23.8">H<tspan font-style="italic">β</tspan></text>
<text x="210.21" y="749.7" font-size="23.8"><tspan font-style="italic">D</tspan><tspan font-size="16.66" dy="4" dx="0">02</tspan><tspan dy="-4" dx="5.0">=</tspan><tspan dx="4.5">23.6</tspan><tspan font-style="italic">Å</tspan></text>
<text x="210.21" y="809.4" font-size="23.8"><tspan font-style="italic">f</tspan><tspan font-style="italic" font-size="16.66" dy="4" dx="0">m</tspan><tspan dy="-4" dx="5.0">=</tspan><tspan dx="4.5">0.<tspan dx="-1.6">2</tspan>72</tspan></text>
<text x="441.15" y="749.7" font-size="23.8"><tspan font-style="italic">D</tspan><tspan font-size="16.66" dy="4" dx="0">02</tspan><tspan dy="-4" dx="5.0">=</tspan><tspan dx="4.5">24.7</tspan><tspan font-style="italic">Å</tspan></text>
<text x="441.15" y="809.4" font-size="23.8"><tspan font-style="italic">f</tspan><tspan font-style="italic" font-size="16.66" dy="4" dx="0">m</tspan><tspan dy="-4" dx="5.0">=</tspan><tspan dx="4.5">0.<tspan dx="-1.6">2</tspan>68</tspan></text>
<text x="758.69" y="749.7" font-size="23.8"><tspan font-style="italic">D</tspan><tspan font-size="16.66" dy="4" dx="0">02</tspan><tspan dy="-4" dx="5.0">=</tspan><tspan dx="4.5">23.3</tspan><tspan font-style="italic">Å</tspan></text>
<text x="758.69" y="809.4" font-size="23.8"><tspan font-style="italic">f</tspan><tspan font-style="italic" font-size="16.66" dy="4" dx="0">m</tspan><tspan dy="-4" dx="5.0">=</tspan><tspan dx="4.5">0.313</tspan></text>
<text x="758.69" y="924.82" font-size="23.8">obsid-205811190</text>
</svg>
</body></html>
